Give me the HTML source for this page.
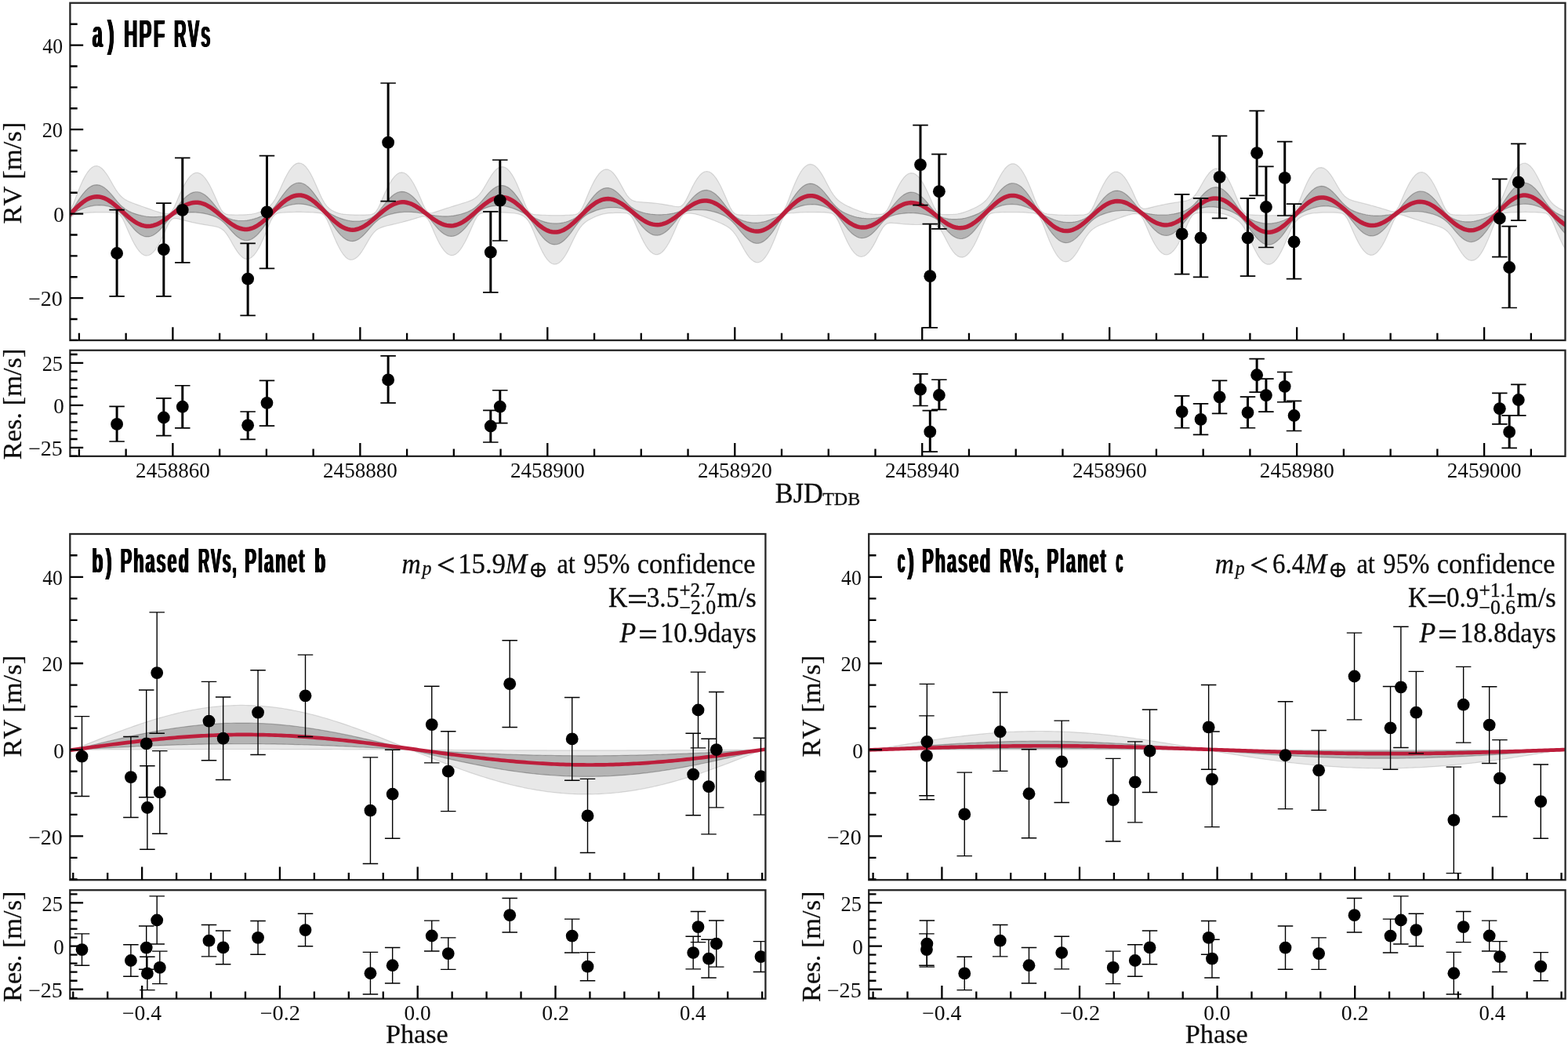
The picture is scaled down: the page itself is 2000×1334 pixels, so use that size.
<!DOCTYPE html>
<html lang="en"><head><meta charset="utf-8"><title>HPF RVs</title>
<style>html,body{margin:0;padding:0;background:#fff;overflow:hidden}svg{display:block;filter:blur(0.45px)}</style>
</head><body>
<svg width="2000" height="1334" viewBox="0 0 2000 1334" font-family="'Liberation Serif','DejaVu Serif',serif" style="font-kerning:none">
<rect width="2000" height="1334" fill="#fff"/>
<defs>
<clipPath id="cA"><rect x="89.4" y="3.75" width="1907.1" height="430.25"/></clipPath>
<clipPath id="cAR"><rect x="89.4" y="446.75" width="1907.1" height="135.1"/></clipPath>
<clipPath id="cB"><rect x="89.3" y="681" width="887.1" height="441.2"/></clipPath>
<clipPath id="cBR"><rect x="89.3" y="1135.2" width="887.1" height="138.5"/></clipPath>
<clipPath id="cC"><rect x="1108.2" y="681" width="888.4" height="441.2"/></clipPath>
<clipPath id="cCR"><rect x="1108.2" y="1135.2" width="888.4" height="138.5"/></clipPath>
<filter id="fat" filterUnits="userSpaceOnUse" x="100" y="0" width="1400" height="760"><feOffset in="SourceGraphic" dx="0" dy="-0.5" result="u"/><feOffset in="SourceGraphic" dx="0" dy="0.5" result="d"/><feComposite in="u" in2="d" operator="in" result="e"/><feOffset in="e" dx="-0.85" dy="0" result="a"/><feOffset in="e" dx="0.85" dy="0" result="b"/><feMerge><feMergeNode in="a"/><feMergeNode in="b"/><feMergeNode in="e"/></feMerge></filter>
</defs>
<path d="M87.77 270.49L90.76 266.06L93.75 259.34L96.74 251.51L99.73 243.69L102.73 236.4L105.72 229.86L108.71 224.21L111.7 219.52L114.69 215.84L117.68 213.24L120.68 211.79L123.67 211.52L126.66 212.45L129.65 214.49L132.64 217.51L135.63 221.41L138.63 226.04L141.62 231.21L144.61 236.52L147.6 241.54L150.59 245.93L153.58 249.5L156.58 252.27L159.57 254.38L162.56 256.05L165.55 257.43L168.54 258.65L171.53 259.76L174.53 260.85L177.52 261.92L180.51 262.98L183.5 264.02L186.49 265.06L189.48 266.12L192.48 267.18L195.47 268.22L198.46 269.22L201.45 270.19L204.44 271.1L207.43 271.89L210.43 272.47L213.42 272.68L216.41 271.87L219.4 269L222.39 263.75L225.38 256.92L228.38 249.8L231.37 243.13L234.36 237.08L237.35 231.8L240.34 227.4L243.33 223.99L246.33 221.63L249.32 220.39L252.31 220.28L255.3 221.32L258.29 223.45L261.28 226.63L264.28 230.79L267.27 235.85L270.26 241.69L273.25 248.13L276.24 254.98L279.23 261.76L282.23 267.52L285.22 271.31L288.21 273.08L291.2 273.63L294.19 273.81L297.18 273.92L300.18 273.98L303.17 273.99L306.16 273.96L309.15 273.89L312.14 273.78L315.13 273.62L318.13 273.38L321.12 273.03L324.11 272.51L327.1 271.76L330.09 270.78L333.08 269.57L336.08 268.13L339.07 266.46L342.06 264.44L345.05 261.86L348.04 258.38L351.03 253.79L354.03 248.1L357.02 241.68L360.01 235.03L363 228.6L365.99 222.74L368.98 217.67L371.98 213.56L374.97 210.53L377.96 208.62L380.95 207.85L383.94 208.25L386.93 209.8L389.93 212.49L392.92 216.26L395.91 221.04L398.9 226.73L401.89 233.15L404.88 240.03L407.88 246.98L410.87 253.41L413.86 258.79L416.85 262.87L419.84 265.79L422.83 267.93L425.83 269.57L428.82 270.89L431.81 271.9L434.8 272.63L437.79 273.12L440.78 273.45L443.78 273.67L446.77 273.84L449.76 273.97L452.75 274.07L455.74 274.12L458.73 274.14L461.73 274.12L464.72 274.05L467.71 273.95L470.7 273.79L473.69 273.48L476.68 272.44L479.68 269.66L482.67 264.7L485.66 258.19L488.65 251.25L491.64 244.59L494.63 238.43L497.63 232.95L500.62 228.32L503.61 224.63L506.6 221.95L509.59 220.34L512.58 219.85L515.58 220.52L518.57 222.34L521.56 225.26L524.55 229.19L527.54 234.05L530.54 239.73L533.53 246.12L536.52 253.09L539.51 260.21L542.5 266.39L545.49 270.35L548.49 271.77L551.48 271.48L554.47 270.59L557.46 269.62L560.45 268.63L563.44 267.63L566.44 266.64L569.43 265.66L572.42 264.7L575.41 263.75L578.4 262.81L581.39 261.89L584.39 260.97L587.38 260.05L590.37 259.14L593.36 258.23L596.35 257.26L599.34 256.16L602.34 254.87L605.33 253.25L608.32 251.08L611.31 248.15L614.3 244.31L617.29 239.67L620.29 234.52L623.28 229.31L626.27 224.44L629.26 220.18L632.25 216.72L635.24 214.23L638.24 212.86L641.23 212.64L644.22 213.53L647.21 215.5L650.2 218.58L653.19 222.8L656.19 228.09L659.18 234.28L662.17 241.19L665.16 248.63L668.15 256.39L671.14 263.68L674.14 269.18L677.13 272.21L680.12 273.3L683.11 273.63L686.1 273.86L689.09 274.06L692.09 274.24L695.08 274.4L698.07 274.52L701.06 274.61L704.05 274.68L707.04 274.72L710.04 274.72L713.03 274.7L716.02 274.64L719.01 274.54L722 274.41L724.99 274.25L727.99 274.07L730.98 273.85L733.97 273.51L736.96 272.46L739.95 269.64L742.94 264.55L745.94 257.76L748.93 250.42L751.92 243.31L754.91 236.73L757.9 230.86L760.89 225.84L763.89 221.77L766.88 218.74L769.87 216.79L772.86 215.94L775.85 216.22L778.84 217.67L781.84 220.25L784.83 223.85L787.82 228.3L790.81 233.39L793.8 238.86L796.79 244.26L799.79 249.02L802.78 252.65L805.77 255L808.76 256.32L811.75 257.03L814.74 257.44L817.74 257.7L820.73 257.91L823.72 258.1L826.71 258.31L829.7 258.55L832.69 258.83L835.69 259.14L838.68 259.49L841.67 259.89L844.66 260.34L847.65 260.82L850.64 261.34L853.64 261.89L856.63 262.46L859.62 263.02L862.61 263.52L865.6 263.71L868.59 262.99L871.59 260.57L874.58 256.1L877.57 250.13L880.56 243.68L883.55 237.54L886.54 232.04L889.54 227.32L892.53 223.5L895.52 220.71L898.51 219.02L901.5 218.47L904.49 219.03L907.49 220.71L910.48 223.5L913.47 227.35L916.46 232.17L919.45 237.83L922.44 244.14L925.44 250.94L928.43 257.98L931.42 264.57L934.41 269.59L937.4 272.45L940.39 273.54L943.39 273.89L946.38 274.1L949.37 274.25L952.36 274.37L955.35 274.46L958.34 274.51L961.34 274.52L964.33 274.5L967.32 274.45L970.31 274.38L973.3 274.27L976.29 274.13L979.29 273.97L982.28 273.79L985.27 273.59L988.26 273.38L991.25 273.14L994.24 272.69L997.24 271.21L1000.23 267.55L1003.22 261.4L1006.21 253.62L1009.2 245.54L1012.19 237.89L1015.19 230.9L1018.18 224.72L1021.17 219.47L1024.16 215.24L1027.15 212.13L1030.14 210.19L1033.14 209.42L1036.13 209.81L1039.12 211.3L1042.11 213.85L1045.1 217.41L1048.09 221.85L1051.09 227.03L1054.08 232.67L1057.07 238.38L1060.06 243.74L1063.05 248.41L1066.04 252.23L1069.04 255.24L1072.03 257.61L1075.02 259.55L1078.01 261.21L1081 262.71L1083.99 264.1L1086.99 265.43L1089.98 266.7L1092.97 267.91L1095.96 269.05L1098.95 270.09L1101.94 271.04L1104.94 271.86L1107.93 272.52L1110.92 272.97L1113.91 273.23L1116.9 273.35L1119.89 273.38L1122.89 273.32L1125.88 272.87L1128.87 271.14L1131.86 267.31L1134.85 261.48L1137.84 254.62L1140.84 247.74L1143.83 241.32L1146.82 235.54L1149.81 230.57L1152.8 226.53L1155.79 223.49L1158.79 221.51L1161.78 220.63L1164.77 220.88L1167.76 222.25L1170.75 224.7L1173.75 228.19L1176.74 232.66L1179.73 237.99L1182.72 244.06L1185.71 250.68L1188.7 257.64L1191.7 264.25L1194.69 269.33L1197.68 272.2L1200.67 273.25L1203.66 273.49L1206.65 273.56L1209.65 273.57L1212.64 273.51L1215.63 273.38L1218.62 273.13L1221.61 272.72L1224.6 272.12L1227.6 271.33L1230.59 270.39L1233.58 269.31L1236.57 268.13L1239.56 266.83L1242.55 265.44L1245.55 263.96L1248.54 262.34L1251.53 260.5L1254.52 258.29L1257.51 255.52L1260.5 251.97L1263.5 247.53L1266.49 242.29L1269.48 236.51L1272.47 230.57L1275.46 224.88L1278.45 219.79L1281.45 215.52L1284.44 212.23L1287.43 209.99L1290.42 208.86L1293.41 208.87L1296.4 210.06L1299.4 212.42L1302.39 215.92L1305.38 220.49L1308.37 226.04L1311.36 232.45L1314.35 239.57L1317.35 247.2L1320.34 254.92L1323.33 261.86L1326.32 267.09L1329.31 270.31L1332.3 271.96L1335.3 272.76L1338.29 273.18L1341.28 273.44L1344.27 273.65L1347.26 273.84L1350.25 274.01L1353.25 274.15L1356.24 274.27L1359.23 274.36L1362.22 274.41L1365.21 274.43L1368.2 274.42L1371.2 274.37L1374.19 274.28L1377.18 274.16L1380.17 274L1383.16 273.78L1386.15 273.21L1389.15 271.47L1392.14 267.75L1395.13 262.04L1398.12 255.22L1401.11 248.28L1404.1 241.71L1407.1 235.72L1410.09 230.45L1413.08 226.04L1416.07 222.61L1419.06 220.3L1422.05 219.13L1425.05 219.1L1428.04 220.19L1431.03 222.37L1434.02 225.59L1437.01 229.82L1440 234.95L1443 240.86L1445.99 247.37L1448.98 254.09L1451.97 260.11L1454.96 264.27L1457.95 266.09L1460.95 266.19L1463.94 265.59L1466.93 264.86L1469.92 264.11L1472.91 263.38L1475.9 262.67L1478.9 261.99L1481.89 261.34L1484.88 260.73L1487.87 260.15L1490.86 259.61L1493.85 259.11L1496.85 258.63L1499.84 258.19L1502.83 257.77L1505.82 257.34L1508.81 256.88L1511.8 256.31L1514.8 255.53L1517.79 254.34L1520.78 252.45L1523.77 249.54L1526.76 245.51L1529.75 240.59L1532.75 235.25L1535.74 230.01L1538.73 225.27L1541.72 221.27L1544.71 218.14L1547.7 215.97L1550.7 214.94L1553.69 215.15L1556.68 216.55L1559.67 219.04L1562.66 222.57L1565.65 227.1L1568.65 232.56L1571.64 238.81L1574.63 245.7L1577.62 253.04L1580.61 260.34L1583.6 266.64L1586.6 270.89L1589.59 272.96L1592.58 273.65L1595.57 273.9L1598.56 274.11L1601.55 274.29L1604.55 274.44L1607.54 274.57L1610.53 274.66L1613.52 274.72L1616.51 274.75L1619.5 274.74L1622.5 274.7L1625.49 274.64L1628.48 274.54L1631.47 274.41L1634.46 274.24L1637.45 274.06L1640.45 273.84L1643.44 273.6L1646.43 273.04L1649.42 271.25L1652.41 267.32L1655.4 261.17L1658.4 253.76L1661.39 246.21L1664.38 239.08L1667.37 232.59L1670.36 226.86L1673.35 222.01L1676.35 218.14L1679.34 215.41L1682.33 213.91L1685.32 213.59L1688.31 214.34L1691.3 216.16L1694.3 219.03L1697.29 222.85L1700.28 227.43L1703.27 232.5L1706.26 237.72L1709.25 242.66L1712.25 246.89L1715.24 250.18L1718.23 252.56L1721.22 254.22L1724.21 255.43L1727.2 256.38L1730.2 257.2L1733.19 257.95L1736.18 258.67L1739.17 259.41L1742.16 260.16L1745.15 260.94L1748.15 261.73L1751.14 262.54L1754.13 263.36L1757.12 264.21L1760.11 265.08L1763.1 265.98L1766.1 266.9L1769.09 267.84L1772.08 268.79L1775.07 269.72L1778.06 269.92L1781.05 268.07L1784.05 263.46L1787.04 256.84L1790.03 249.7L1793.02 242.99L1796.01 236.9L1799.01 231.57L1802 227.09L1804.99 223.58L1807.98 221.12L1810.97 219.76L1813.96 219.55L1816.96 220.51L1819.95 222.61L1822.94 225.79L1825.93 229.94L1828.92 234.98L1831.91 240.8L1834.91 247.22L1837.9 254.07L1840.89 260.93L1843.88 266.91L1846.87 271.01L1849.86 273.03L1852.86 273.69L1855.85 273.91L1858.84 274.06L1861.83 274.17L1864.82 274.24L1867.81 274.27L1870.81 274.26L1873.8 274.22L1876.79 274.13L1879.78 274.02L1882.77 273.88L1885.76 273.7L1888.76 273.48L1891.75 273.19L1894.74 272.74L1897.73 272.04L1900.72 270.97L1903.71 269.46L1906.71 267.28L1909.7 264.01L1912.69 259.25L1915.68 253.05L1918.67 245.95L1921.66 238.66L1924.66 231.7L1927.65 225.38L1930.64 219.9L1933.63 215.37L1936.62 211.87L1939.61 209.47L1942.61 208.24L1945.6 208.18L1948.59 209.27L1951.58 211.51L1954.57 214.84L1957.56 219.2L1960.56 224.43L1963.55 230.33L1966.54 236.61L1969.53 242.88L1972.52 248.7L1975.51 253.68L1978.51 257.67L1981.5 260.72L1984.49 263.07L1987.48 264.99L1990.47 266.65L1993.46 268.14L1996.46 269.37L1999.45 270.19L1999.45 320.9L1996.46 317.52L1993.46 312.46L1990.47 306.29L1987.48 299.48L1984.49 292.24L1981.5 285L1978.51 278.71L1975.51 274.38L1972.52 272.25L1969.53 271.53L1966.54 271.27L1963.55 271.07L1960.56 270.89L1957.56 270.75L1954.57 270.62L1951.58 270.54L1948.59 270.48L1945.6 270.47L1942.61 270.48L1939.61 270.53L1936.62 270.6L1933.63 270.7L1930.64 270.84L1927.65 271L1924.66 271.19L1921.66 271.4L1918.67 271.64L1915.68 272.18L1912.69 273.9L1909.7 277.8L1906.71 283.98L1903.71 291.49L1900.72 299.14L1897.73 306.37L1894.74 313.01L1891.75 318.9L1888.76 323.84L1885.76 327.68L1882.77 330.36L1879.78 331.91L1876.79 332.38L1873.8 331.75L1870.81 329.99L1867.81 327.14L1864.82 323.37L1861.83 318.87L1858.84 313.84L1855.85 308.61L1852.86 303.62L1849.86 299.28L1846.87 295.81L1843.88 293.2L1840.89 291.29L1837.9 289.87L1834.91 288.72L1831.91 287.72L1828.92 286.81L1825.93 285.92L1822.94 285.05L1819.95 284.16L1816.96 283.28L1813.96 282.38L1810.97 281.48L1807.98 280.55L1804.99 279.6L1802 278.64L1799.01 277.67L1796.01 276.68L1793.02 275.69L1790.03 274.71L1787.04 273.81L1784.05 273.74L1781.05 275.85L1778.06 280.73L1775.07 287.54L1772.08 294.77L1769.09 301.54L1766.1 307.7L1763.1 313.09L1760.11 317.62L1757.12 321.19L1754.13 323.72L1751.14 325.13L1748.15 325.38L1745.15 324.48L1742.16 322.45L1739.17 319.39L1736.18 315.33L1733.19 310.37L1730.2 304.63L1727.2 298.26L1724.21 291.45L1721.22 284.58L1718.23 278.53L1715.24 274.33L1712.25 272.23L1709.25 271.55L1706.26 271.34L1703.27 271.2L1700.28 271.1L1697.29 271.05L1694.3 271.03L1691.3 271.06L1688.31 271.12L1685.32 271.22L1682.33 271.36L1679.34 271.53L1676.35 271.76L1673.35 272.08L1670.36 272.58L1667.37 273.31L1664.38 274.35L1661.39 275.71L1658.4 277.46L1655.4 279.79L1652.41 283.07L1649.42 287.65L1646.43 293.53L1643.44 300.31L1640.45 307.36L1637.45 314.17L1634.46 320.39L1631.47 325.8L1628.48 330.27L1625.49 333.69L1622.5 336.01L1619.5 337.19L1616.51 337.2L1613.52 336.05L1610.53 333.75L1607.54 330.34L1604.55 325.91L1601.55 320.58L1598.56 314.55L1595.57 308.06L1592.58 301.5L1589.59 295.38L1586.6 290.13L1583.6 285.97L1580.61 282.84L1577.62 280.47L1574.63 278.58L1571.64 276.97L1568.65 275.58L1565.65 274.4L1562.66 273.43L1559.67 272.69L1556.68 272.17L1553.69 271.82L1550.7 271.59L1547.7 271.43L1544.71 271.32L1541.72 271.26L1538.73 271.24L1535.74 271.27L1532.75 271.34L1529.75 271.47L1526.76 271.67L1523.77 272.47L1520.78 274.88L1517.79 279.48L1514.8 285.81L1511.8 292.73L1508.81 299.45L1505.82 305.69L1502.83 311.26L1499.84 316L1496.85 319.81L1493.85 322.61L1490.86 324.35L1487.87 324.97L1484.88 324.43L1481.89 322.76L1478.9 320.01L1475.9 316.24L1472.91 311.52L1469.92 305.95L1466.93 299.66L1463.94 292.82L1460.95 285.74L1457.95 279.36L1454.96 274.91L1451.97 272.8L1448.98 272.39L1445.99 272.69L1443 273.27L1440 274.05L1437.01 274.95L1434.02 275.91L1431.03 276.93L1428.04 277.98L1425.05 279.05L1422.05 280.13L1419.06 281.19L1416.07 282.25L1413.08 283.33L1410.09 284.43L1407.1 285.57L1404.1 286.76L1401.11 288.06L1398.12 289.56L1395.13 291.4L1392.14 293.76L1389.15 296.86L1386.15 300.79L1383.16 305.5L1380.17 310.72L1377.18 316.06L1374.19 321.08L1371.2 325.47L1368.2 329.07L1365.21 331.77L1362.22 333.43L1359.23 333.94L1356.24 333.25L1353.25 331.37L1350.25 328.37L1347.26 324.31L1344.27 319.26L1341.28 313.3L1338.29 306.49L1335.3 298.98L1332.3 291.01L1329.31 283.33L1326.32 277.23L1323.33 273.61L1320.34 272.16L1317.35 271.73L1314.35 271.5L1311.36 271.3L1308.37 271.12L1305.38 270.96L1302.39 270.82L1299.4 270.71L1296.4 270.62L1293.41 270.56L1290.42 270.53L1287.43 270.53L1284.44 270.57L1281.45 270.64L1278.45 270.75L1275.46 270.89L1272.47 271.06L1269.48 271.27L1266.49 271.55L1263.5 272.39L1260.5 274.83L1257.51 279.49L1254.52 285.96L1251.53 293.13L1248.54 300.17L1245.55 306.77L1242.55 312.7L1239.56 317.81L1236.57 321.99L1233.58 325.15L1230.59 327.21L1227.6 328.14L1224.6 327.93L1221.61 326.63L1218.62 324.26L1215.63 320.85L1212.64 316.46L1209.65 311.28L1206.65 305.58L1203.66 299.79L1200.67 294.56L1197.68 290.54L1194.69 288.03L1191.7 286.79L1188.7 286.32L1185.71 286.2L1182.72 286.23L1179.73 286.31L1176.74 286.4L1173.75 286.46L1170.75 286.49L1167.76 286.49L1164.77 286.45L1161.78 286.36L1158.79 286.22L1155.79 286.03L1152.8 285.79L1149.81 285.52L1146.82 285.22L1143.83 284.9L1140.84 284.6L1137.84 284.39L1134.85 284.42L1131.86 285.08L1128.87 287.02L1125.88 290.66L1122.89 295.85L1119.89 301.85L1116.9 307.88L1113.91 313.41L1110.92 318.19L1107.93 322.05L1104.94 324.94L1101.94 326.78L1098.95 327.5L1095.96 327.08L1092.97 325.51L1089.98 322.85L1086.99 319.15L1083.99 314.45L1081 308.87L1078.01 302.57L1075.02 295.75L1072.03 288.64L1069.04 281.85L1066.04 276.46L1063.05 273.19L1060.06 271.8L1057.07 271.35L1054.08 271.14L1051.09 270.96L1048.09 270.82L1045.1 270.7L1042.11 270.63L1039.12 270.59L1036.13 270.59L1033.14 270.62L1030.14 270.68L1027.15 270.76L1024.16 270.87L1021.17 271.01L1018.18 271.17L1015.19 271.35L1012.19 271.55L1009.2 271.77L1006.21 272.01L1003.22 272.86L1000.23 275.63L997.24 281.08L994.24 288.6L991.25 296.72L988.26 304.47L985.27 311.6L982.28 317.98L979.29 323.48L976.29 328L973.3 331.45L970.31 333.73L967.32 334.79L964.33 334.66L961.34 333.39L958.34 331.1L955.35 327.83L952.36 323.66L949.37 318.74L946.38 313.35L943.39 307.89L940.39 302.74L937.4 298.26L934.41 294.61L931.42 291.75L928.43 289.51L925.44 287.7L922.44 286.15L919.45 284.76L916.46 283.47L913.47 282.24L910.48 281.04L907.49 279.86L904.49 278.7L901.5 277.57L898.51 276.49L895.52 275.47L892.53 274.52L889.54 273.66L886.54 272.94L883.55 272.44L880.56 272.17L877.57 272.08L874.58 272.34L871.59 273.72L868.59 277.15L865.6 282.75L862.61 289.61L859.62 296.59L856.63 303.11L853.64 308.98L850.64 314.07L847.65 318.27L844.66 321.49L841.67 323.64L838.68 324.66L835.69 324.54L832.69 323.32L829.7 321.01L826.71 317.65L823.72 313.31L820.73 308.08L817.74 302.11L814.74 295.57L811.75 288.67L808.76 281.99L805.77 276.62L802.78 273.35L799.79 271.99L796.79 271.61L793.8 271.49L790.81 271.42L787.82 271.41L784.83 271.44L781.84 271.53L778.84 271.69L775.85 271.93L772.86 272.31L769.87 272.87L766.88 273.64L763.89 274.59L760.89 275.72L757.9 277.01L754.91 278.45L751.92 280.04L748.93 281.85L745.94 284.03L742.94 286.81L739.95 290.42L736.96 295L733.97 300.48L730.98 306.57L727.99 312.85L724.99 318.89L722 324.34L719.01 328.98L716.02 332.65L713.03 335.25L710.04 336.72L707.04 337.05L704.05 336.21L701.06 334.2L698.07 331.05L695.08 326.84L692.09 321.66L689.09 315.6L686.1 308.8L683.11 301.5L680.12 294.15L677.13 287.47L674.14 282.13L671.14 278.38L668.15 275.93L665.16 274.3L662.17 273.19L659.18 272.47L656.19 272.02L653.19 271.73L650.2 271.51L647.21 271.33L644.22 271.18L641.23 271.06L638.24 270.97L635.24 270.92L632.25 270.9L629.26 270.92L626.27 270.98L623.28 271.08L620.29 271.22L617.29 271.41L614.3 271.86L611.31 273.28L608.32 276.59L605.33 281.97L602.34 288.65L599.34 295.58L596.35 302.19L593.36 308.24L590.37 313.58L587.38 318.07L584.39 321.63L581.39 324.14L578.4 325.52L575.41 325.72L572.42 324.77L569.43 322.7L566.44 319.57L563.44 315.45L560.45 310.43L557.46 304.6L554.47 298.1L551.48 291.08L548.49 284.22L545.49 278.94L542.5 276.23L539.51 275.84L536.52 276.56L533.53 277.49L530.54 278.41L527.54 279.32L524.55 280.2L521.56 281.06L518.57 281.88L515.58 282.69L512.58 283.48L509.59 284.25L506.6 285L503.61 285.72L500.62 286.41L497.63 287.09L494.63 287.78L491.64 288.52L488.65 289.38L485.66 290.43L482.67 291.85L479.68 293.87L476.68 296.76L473.69 300.63L470.7 305.37L467.71 310.58L464.72 315.77L461.73 320.55L458.73 324.64L455.74 327.85L452.75 330.06L449.76 331.24L446.77 331.34L443.78 330.26L440.78 327.95L437.79 324.47L434.8 319.98L431.81 314.58L428.82 308.37L425.83 301.47L422.83 294.07L419.84 286.51L416.85 279.73L413.86 274.93L410.87 272.49L407.88 271.68L404.88 271.42L401.89 271.2L398.9 271.01L395.91 270.84L392.92 270.69L389.93 270.59L386.93 270.51L383.94 270.46L380.95 270.45L377.96 270.47L374.97 270.52L371.98 270.6L368.98 270.71L365.99 270.86L363 271.03L360.01 271.23L357.02 271.47L354.03 271.93L351.03 273.38L348.04 276.81L345.05 282.48L342.06 289.59L339.07 297.02L336.08 304.11L333.08 310.62L330.09 316.39L327.1 321.29L324.11 325.2L321.12 328.1L318.13 329.92L315.13 330.55L312.14 329.93L309.15 328.16L306.16 325.38L303.17 321.69L300.18 317.2L297.18 312.12L294.19 306.79L291.2 301.69L288.21 297.3L285.22 293.97L282.23 291.7L279.23 290.23L276.24 289.29L273.25 288.62L270.26 288.07L267.27 287.59L264.28 287.12L261.28 286.65L258.29 286.15L255.3 285.61L252.31 285.04L249.32 284.44L246.33 283.81L243.33 283.15L240.34 282.44L237.35 281.7L234.36 280.94L231.37 280.16L228.38 279.37L225.38 278.65L222.39 278.38L219.4 279.52L216.41 282.92L213.42 288.5L210.43 295.19L207.43 301.89L204.44 308.05L201.45 313.49L198.46 318.06L195.47 321.66L192.48 324.24L189.48 325.74L186.49 326.12L183.5 325.37L180.51 323.45L177.52 320.42L174.53 316.36L171.53 311.41L168.54 305.67L165.55 299.28L162.56 292.45L159.57 285.49L156.58 279.21L153.58 274.7L150.59 272.35L147.6 271.53L144.61 271.28L141.62 271.1L138.63 270.97L135.63 270.87L132.64 270.81L129.65 270.79L126.66 270.8L123.67 270.85L120.68 270.93L117.68 271.04L114.69 271.18L111.7 271.34L108.71 271.53L105.72 271.74L102.73 272.01L99.73 272.42L96.74 273.16L93.75 274.58L90.76 276.66L87.77 278.67Z" fill="#000" fill-opacity="0.09" stroke="#000" stroke-opacity="0.13" stroke-width="1.2" stroke-linejoin="round" clip-path="url(#cA)"/>
<path d="M87.77 272.28L90.76 269.45L93.75 265.25L96.74 260.46L99.73 255.72L102.73 251.28L105.72 247.27L108.71 243.77L111.7 240.83L114.69 238.51L117.68 236.86L120.68 235.9L123.67 235.66L126.66 236.11L129.65 237.24L132.64 239.01L135.63 241.36L138.63 244.21L141.62 247.46L144.61 251.01L147.6 254.66L150.59 258.17L153.58 261.35L156.58 264.09L159.57 266.4L162.56 268.32L165.55 269.91L168.54 271.23L171.53 272.35L174.53 273.32L177.52 274.16L180.51 274.89L183.5 275.5L186.49 275.98L189.48 276.33L192.48 276.54L195.47 276.63L198.46 276.6L201.45 276.47L204.44 276.22L207.43 275.88L210.43 275.45L213.42 274.82L216.41 273.65L219.4 271.52L222.39 268.35L225.38 264.54L228.38 260.65L231.37 256.99L234.36 253.68L237.35 250.81L240.34 248.42L243.33 246.59L246.33 245.36L249.32 244.74L252.31 244.76L255.3 245.41L258.29 246.68L261.28 248.55L264.28 250.98L267.27 253.91L270.26 257.24L273.25 260.87L276.24 264.65L279.23 268.37L282.23 271.76L285.22 274.57L288.21 276.71L291.2 278.28L294.19 279.41L297.18 280.25L300.18 280.86L303.17 281.27L306.16 281.48L309.15 281.52L312.14 281.38L315.13 281.06L318.13 280.57L321.12 279.92L324.11 279.13L327.1 278.19L330.09 277.12L333.08 275.91L336.08 274.59L339.07 273.11L342.06 271.35L345.05 269.1L348.04 266.18L351.03 262.57L354.03 258.43L357.02 254.07L360.01 249.78L363 245.76L365.99 242.16L368.98 239.07L371.98 236.56L374.97 234.7L377.96 233.51L380.95 233.03L383.94 233.28L386.93 234.23L389.93 235.88L392.92 238.2L395.91 241.12L398.9 244.59L401.89 248.54L404.88 252.84L407.88 257.34L410.87 261.76L413.86 265.74L416.85 268.99L419.84 271.45L422.83 273.31L425.83 274.84L428.82 276.21L431.81 277.46L434.8 278.59L437.79 279.59L440.78 280.45L443.78 281.15L446.77 281.69L449.76 282.04L452.75 282.22L455.74 282.21L458.73 282.01L461.73 281.62L464.72 281.02L467.71 280.21L470.7 279.14L473.69 277.71L476.68 275.77L479.68 273.22L482.67 270.07L485.66 266.48L488.65 262.68L491.64 258.92L494.63 255.39L497.63 252.22L500.62 249.49L503.61 247.3L506.6 245.69L509.59 244.7L512.58 244.34L515.58 244.61L518.57 245.52L521.56 247.03L524.55 249.12L527.54 251.74L530.54 254.83L533.53 258.32L536.52 262.13L539.51 266.06L542.5 269.61L545.49 272.19L548.49 273.65L551.48 274.35L554.47 274.8L557.46 275.18L560.45 275.49L563.44 275.7L566.44 275.81L569.43 275.81L572.42 275.69L575.41 275.44L578.4 275.06L581.39 274.57L584.39 273.95L587.38 273.23L590.37 272.38L593.36 271.4L596.35 270.23L599.34 268.85L602.34 267.18L605.33 265.17L608.32 262.75L611.31 259.89L614.3 256.61L617.29 253.09L620.29 249.54L623.28 246.2L626.27 243.21L629.26 240.67L632.25 238.67L635.24 237.29L638.24 236.57L641.23 236.54L644.22 237.21L647.21 238.57L650.2 240.6L653.19 243.27L656.19 246.53L659.18 250.32L662.17 254.54L665.16 259.09L668.15 263.78L671.14 268.23L674.14 271.98L677.13 274.8L680.12 276.84L683.11 278.43L686.1 279.81L689.09 281.05L692.09 282.13L695.08 283.06L698.07 283.81L701.06 284.39L704.05 284.77L707.04 284.97L710.04 284.96L713.03 284.76L716.02 284.35L719.01 283.76L722 282.97L724.99 282L727.99 280.84L730.98 279.46L733.97 277.8L736.96 275.68L739.95 272.95L742.94 269.53L745.94 265.55L748.93 261.29L751.92 257.06L754.91 253.06L757.9 249.45L760.89 246.31L763.89 243.71L766.88 241.71L769.87 240.35L772.86 239.65L775.85 239.61L778.84 240.25L781.84 241.54L784.83 243.45L787.82 245.9L790.81 248.83L793.8 252.12L796.79 255.59L799.79 258.99L802.78 262.06L805.77 264.6L808.76 266.61L811.75 268.17L814.74 269.42L817.74 270.43L820.73 271.27L823.72 271.97L826.71 272.54L829.7 273.01L832.69 273.37L835.69 273.62L838.68 273.76L841.67 273.78L844.66 273.7L847.65 273.52L850.64 273.23L853.64 272.86L856.63 272.39L859.62 271.82L862.61 271.1L865.6 270.08L868.59 268.49L871.59 266.08L874.58 262.87L877.57 259.22L880.56 255.57L883.55 252.18L886.54 249.2L889.54 246.69L892.53 244.71L895.52 243.32L898.51 242.56L901.5 242.45L904.49 242.98L907.49 244.16L910.48 245.96L913.47 248.34L916.46 251.25L919.45 254.61L922.44 258.34L925.44 262.29L928.43 266.25L931.42 269.98L934.41 273.24L937.4 275.9L940.39 278L943.39 279.62L946.38 280.91L949.37 281.95L952.36 282.77L955.35 283.38L958.34 283.8L961.34 284.02L964.33 284.05L967.32 283.88L970.31 283.51L973.3 282.96L976.29 282.22L979.29 281.33L982.28 280.29L985.27 279.11L988.26 277.82L991.25 276.44L994.24 274.92L997.24 272.95L1000.23 270L1003.22 265.9L1006.21 261.07L1009.2 256.16L1012.19 251.54L1015.19 247.31L1018.18 243.56L1021.17 240.37L1024.16 237.78L1027.15 235.86L1030.14 234.63L1033.14 234.11L1036.13 234.3L1039.12 235.18L1042.11 236.72L1045.1 238.9L1048.09 241.65L1051.09 244.89L1054.08 248.51L1057.07 252.37L1060.06 256.26L1063.05 259.95L1066.04 263.24L1069.04 266.05L1072.03 268.38L1075.02 270.27L1078.01 271.82L1081 273.13L1083.99 274.28L1086.99 275.3L1089.98 276.21L1092.97 276.98L1095.96 277.61L1098.95 278.11L1101.94 278.47L1104.94 278.68L1107.93 278.74L1110.92 278.67L1113.91 278.47L1116.9 278.13L1119.89 277.63L1122.89 276.88L1125.88 275.71L1128.87 273.86L1131.86 271.16L1134.85 267.74L1137.84 263.97L1140.84 260.19L1143.83 256.63L1146.82 253.41L1149.81 250.64L1152.8 248.37L1155.79 246.67L1158.79 245.57L1161.78 245.08L1164.77 245.24L1167.76 246.03L1170.75 247.43L1173.75 249.42L1176.74 251.94L1179.73 254.95L1182.72 258.34L1185.71 262.01L1188.7 265.79L1191.7 269.42L1194.69 272.57L1197.68 274.99L1200.67 276.67L1203.66 277.78L1206.65 278.53L1209.65 279.05L1212.64 279.38L1215.63 279.56L1218.62 279.59L1221.61 279.47L1224.6 279.21L1227.6 278.79L1230.59 278.22L1233.58 277.51L1236.57 276.66L1239.56 275.68L1242.55 274.58L1245.55 273.35L1248.54 271.95L1251.53 270.28L1254.52 268.21L1257.51 265.64L1260.5 262.55L1263.5 258.97L1266.49 255.04L1269.48 251L1272.47 247.1L1275.46 243.51L1278.45 240.37L1281.45 237.75L1284.44 235.73L1287.43 234.37L1290.42 233.7L1293.41 233.73L1296.4 234.48L1299.4 235.93L1302.39 238.06L1305.38 240.84L1308.37 244.21L1311.36 248.1L1314.35 252.43L1317.35 257.11L1320.34 261.94L1323.33 266.48L1326.32 270.19L1329.31 272.83L1332.3 274.68L1335.3 276.18L1338.29 277.56L1341.28 278.84L1344.27 280L1347.26 281.02L1350.25 281.89L1353.25 282.59L1356.24 283.12L1359.23 283.47L1362.22 283.62L1365.21 283.57L1368.2 283.33L1371.2 282.89L1374.19 282.25L1377.18 281.4L1380.17 280.33L1383.16 278.97L1386.15 277.21L1389.15 274.93L1392.14 272.05L1395.13 268.61L1398.12 264.81L1401.11 260.88L1404.1 257.07L1407.1 253.54L1410.09 250.42L1413.08 247.78L1416.07 245.69L1419.06 244.18L1422.05 243.3L1425.05 243.07L1428.04 243.5L1431.03 244.56L1434.02 246.22L1437.01 248.46L1440 251.21L1443 254.41L1445.99 257.97L1448.98 261.75L1451.97 265.41L1454.96 268.42L1457.95 270.45L1460.95 271.63L1463.94 272.34L1466.93 272.87L1469.92 273.31L1472.91 273.67L1475.9 273.95L1478.9 274.13L1481.89 274.2L1484.88 274.17L1487.87 274.02L1490.86 273.76L1493.85 273.39L1496.85 272.91L1499.84 272.32L1502.83 271.6L1505.82 270.75L1508.81 269.74L1511.8 268.51L1514.8 267L1517.79 265.13L1520.78 262.82L1523.77 260L1526.76 256.75L1529.75 253.29L1532.75 249.88L1535.74 246.73L1538.73 243.97L1541.72 241.71L1544.71 240.05L1547.7 239.01L1550.7 238.63L1553.69 238.94L1556.68 239.93L1559.67 241.59L1562.66 243.87L1565.65 246.74L1568.65 250.13L1571.64 253.98L1574.63 258.17L1577.62 262.56L1580.61 266.88L1583.6 270.77L1586.6 273.96L1589.59 276.42L1592.58 278.3L1595.57 279.84L1598.56 281.14L1601.55 282.25L1604.55 283.19L1607.54 283.95L1610.53 284.53L1613.52 284.9L1616.51 285.07L1619.5 285.05L1622.5 284.83L1625.49 284.42L1628.48 283.82L1631.47 283.03L1634.46 282.06L1637.45 280.94L1640.45 279.66L1643.44 278.19L1646.43 276.42L1649.42 274.1L1652.41 270.96L1655.4 267.01L1658.4 262.55L1661.39 257.99L1664.38 253.63L1667.37 249.62L1670.36 246.06L1673.35 243.03L1676.35 240.61L1679.34 238.84L1682.33 237.74L1685.32 237.33L1688.31 237.61L1691.3 238.56L1694.3 240.16L1697.29 242.35L1700.28 245.05L1703.27 248.16L1706.26 251.57L1709.25 255.08L1712.25 258.45L1715.24 261.47L1718.23 264.04L1721.22 266.16L1724.21 267.91L1727.2 269.35L1730.2 270.55L1733.19 271.56L1736.18 272.42L1739.17 273.15L1742.16 273.76L1745.15 274.26L1748.15 274.64L1751.14 274.91L1754.13 275.06L1757.12 275.09L1760.11 275.01L1763.1 274.82L1766.1 274.54L1769.09 274.17L1772.08 273.74L1775.07 273.24L1778.06 272.36L1781.05 270.55L1784.05 267.57L1787.04 263.78L1790.03 259.85L1793.02 256.17L1796.01 252.85L1799.01 249.96L1802 247.58L1804.99 245.76L1807.98 244.54L1810.97 243.95L1813.96 243.99L1816.96 244.67L1819.95 245.97L1822.94 247.87L1825.93 250.34L1828.92 253.31L1831.91 256.7L1834.91 260.38L1837.9 264.22L1840.89 268L1843.88 271.47L1846.87 274.41L1849.86 276.74L1852.86 278.52L1855.85 279.87L1858.84 280.9L1861.83 281.69L1864.82 282.27L1867.81 282.65L1870.81 282.83L1873.8 282.82L1876.79 282.63L1879.78 282.25L1882.77 281.69L1885.76 280.95L1888.76 280.05L1891.75 279.01L1894.74 277.84L1897.73 276.55L1900.72 275.16L1903.71 273.6L1906.71 271.65L1909.7 268.98L1912.69 265.41L1915.68 261.1L1918.67 256.46L1921.66 251.89L1924.66 247.62L1927.65 243.76L1930.64 240.41L1933.63 237.64L1936.62 235.5L1939.61 234.04L1942.61 233.28L1945.6 233.24L1948.59 233.92L1951.58 235.29L1954.57 237.33L1957.56 239.98L1960.56 243.19L1963.55 246.86L1966.54 250.88L1969.53 255.1L1972.52 259.27L1975.51 263.11L1978.51 266.4L1981.5 269.08L1984.49 271.18L1987.48 272.86L1990.47 274.29L1993.46 275.55L1996.46 276.63L1999.45 277.36L1999.45 299.92L1996.46 297.8L1993.46 294.65L1990.47 290.88L1987.48 286.77L1984.49 282.47L1981.5 278.24L1978.51 274.4L1975.51 271.22L1972.52 268.74L1969.53 266.81L1966.54 265.26L1963.55 263.97L1960.56 262.86L1957.56 261.95L1954.57 261.21L1951.58 260.67L1948.59 260.33L1945.6 260.18L1942.61 260.24L1939.61 260.49L1936.62 260.94L1933.63 261.57L1930.64 262.38L1927.65 263.36L1924.66 264.49L1921.66 265.77L1918.67 267.22L1915.68 268.94L1912.69 271.21L1909.7 274.35L1906.71 278.37L1903.71 282.94L1900.72 287.59L1897.73 292.03L1894.74 296.1L1891.75 299.71L1888.76 302.76L1885.76 305.21L1882.77 307L1879.78 308.12L1876.79 308.55L1873.8 308.28L1870.81 307.33L1867.81 305.73L1864.82 303.53L1861.83 300.82L1858.84 297.7L1855.85 294.27L1852.86 290.72L1849.86 287.28L1846.87 284.17L1843.88 281.49L1840.89 279.25L1837.9 277.39L1834.91 275.85L1831.91 274.57L1828.92 273.5L1825.93 272.58L1822.94 271.8L1819.95 271.13L1816.96 270.57L1813.96 270.12L1810.97 269.8L1807.98 269.61L1804.99 269.54L1802 269.58L1799.01 269.74L1796.01 269.99L1793.02 270.33L1790.03 270.74L1787.04 271.23L1784.05 272.08L1781.05 273.87L1778.06 276.85L1775.07 280.65L1772.08 284.6L1769.09 288.31L1766.1 291.67L1763.1 294.59L1760.11 297.02L1757.12 298.9L1754.13 300.18L1751.14 300.85L1748.15 300.89L1745.15 300.29L1742.16 299.06L1739.17 297.23L1736.18 294.83L1733.19 291.92L1730.2 288.6L1727.2 284.97L1724.21 281.16L1721.22 277.39L1718.23 273.92L1715.24 270.97L1712.25 268.64L1709.25 266.89L1706.26 265.58L1703.27 264.59L1700.28 263.85L1697.29 263.31L1694.3 262.97L1691.3 262.83L1688.31 262.88L1685.32 263.11L1682.33 263.52L1679.34 264.11L1676.35 264.86L1673.35 265.77L1670.36 266.82L1667.37 267.99L1664.38 269.28L1661.39 270.69L1658.4 272.29L1655.4 274.31L1652.41 277.02L1649.42 280.56L1646.43 284.76L1643.44 289.27L1640.45 293.76L1637.45 297.97L1634.46 301.78L1631.47 305.08L1628.48 307.81L1625.49 309.92L1622.5 311.34L1619.5 312.06L1616.51 312.07L1613.52 311.35L1610.53 309.94L1607.54 307.86L1604.55 305.15L1601.55 301.89L1598.56 298.16L1595.57 294.05L1592.58 289.74L1589.59 285.45L1586.6 281.5L1583.6 278.13L1580.61 275.45L1577.62 273.38L1574.63 271.72L1571.64 270.31L1568.65 269.03L1565.65 267.87L1562.66 266.84L1559.67 265.95L1556.68 265.21L1553.69 264.62L1550.7 264.18L1547.7 263.91L1544.71 263.82L1541.72 263.91L1538.73 264.19L1535.74 264.65L1532.75 265.32L1529.75 266.23L1526.76 267.48L1523.77 269.24L1520.78 271.61L1517.79 274.63L1514.8 278.15L1511.8 281.92L1508.81 285.67L1505.82 289.2L1502.83 292.38L1499.84 295.13L1496.85 297.36L1493.85 299.01L1490.86 300.05L1487.87 300.46L1484.88 300.24L1481.89 299.38L1478.9 297.92L1475.9 295.88L1472.91 293.31L1469.92 290.27L1466.93 286.83L1463.94 283.06L1460.95 279.16L1457.95 275.52L1454.96 272.69L1451.97 270.9L1448.98 269.95L1445.99 269.4L1443 269L1440 268.69L1437.01 268.48L1434.02 268.39L1431.03 268.41L1428.04 268.56L1425.05 268.82L1422.05 269.22L1419.06 269.76L1416.07 270.43L1413.08 271.21L1410.09 272.1L1407.1 273.13L1404.1 274.33L1401.11 275.75L1398.12 277.46L1395.13 279.54L1392.14 282.02L1389.15 284.95L1386.15 288.28L1383.16 291.89L1380.17 295.55L1377.18 299.04L1374.19 302.18L1371.2 304.87L1368.2 307.02L1365.21 308.58L1362.22 309.49L1359.23 309.7L1356.24 309.21L1353.25 308.01L1350.25 306.12L1347.26 303.58L1344.27 300.44L1341.28 296.75L1338.29 292.57L1335.3 288.01L1332.3 283.18L1329.31 278.44L1326.32 274.36L1323.33 271.31L1320.34 269.2L1317.35 267.61L1314.35 266.22L1311.36 264.95L1308.37 263.81L1305.38 262.82L1302.39 261.98L1299.4 261.31L1296.4 260.83L1293.41 260.53L1290.42 260.44L1287.43 260.54L1284.44 260.84L1281.45 261.33L1278.45 262.03L1275.46 262.92L1272.47 264L1269.48 265.31L1266.49 266.9L1263.5 268.92L1260.5 271.51L1257.51 274.74L1254.52 278.52L1251.53 282.63L1248.54 286.78L1245.55 290.73L1242.55 294.34L1239.56 297.5L1236.57 300.14L1233.58 302.19L1230.59 303.62L1227.6 304.39L1224.6 304.51L1221.61 303.98L1218.62 302.8L1215.63 301.02L1212.64 298.66L1209.65 295.8L1206.65 292.55L1203.66 289.06L1200.67 285.57L1197.68 282.4L1194.69 279.81L1191.7 277.84L1188.7 276.38L1185.71 275.27L1182.72 274.38L1179.73 273.66L1176.74 273.06L1173.75 272.57L1170.75 272.19L1167.76 271.91L1164.77 271.74L1161.78 271.68L1158.79 271.73L1155.79 271.88L1152.8 272.14L1149.81 272.5L1146.82 272.96L1143.83 273.52L1140.84 274.22L1137.84 275.08L1134.85 276.23L1131.86 277.85L1128.87 280.13L1125.88 283.12L1122.89 286.59L1119.89 290.18L1116.9 293.59L1113.91 296.63L1110.92 299.19L1107.93 301.22L1104.94 302.67L1101.94 303.51L1098.95 303.7L1095.96 303.23L1092.97 302.1L1089.98 300.34L1086.99 297.99L1083.99 295.1L1081 291.73L1078.01 287.98L1075.02 283.97L1072.03 279.9L1069.04 276.03L1066.04 272.61L1063.05 269.79L1060.06 267.57L1057.07 265.84L1054.08 264.46L1051.09 263.33L1048.09 262.41L1045.1 261.69L1042.11 261.16L1039.12 260.83L1036.13 260.7L1033.14 260.78L1030.14 261.04L1027.15 261.49L1024.16 262.13L1021.17 262.93L1018.18 263.9L1015.19 265.02L1012.19 266.27L1009.2 267.62L1006.21 269.06L1003.22 270.85L1000.23 273.51L997.24 277.34L994.24 282.05L991.25 286.99L988.26 291.7L985.27 296.04L982.28 299.93L979.29 303.28L976.29 306.04L973.3 308.15L970.31 309.59L967.32 310.31L964.33 310.32L961.34 309.63L958.34 308.28L955.35 306.31L952.36 303.76L949.37 300.71L946.38 297.27L943.39 293.56L940.39 289.81L937.4 286.23L934.41 283.01L931.42 280.24L928.43 277.91L925.44 275.99L922.44 274.4L919.45 273.08L916.46 271.94L913.47 270.94L910.48 270.06L907.49 269.31L904.49 268.68L901.5 268.2L898.51 267.84L895.52 267.61L892.53 267.52L889.54 267.56L886.54 267.72L883.55 268L880.56 268.4L877.57 268.95L874.58 269.84L871.59 271.39L868.59 273.87L865.6 277.21L862.61 281.01L859.62 284.84L856.63 288.44L853.64 291.69L850.64 294.5L847.65 296.8L844.66 298.54L841.67 299.68L838.68 300.22L835.69 300.12L832.69 299.39L829.7 298.03L826.71 296.08L823.72 293.58L820.73 290.61L817.74 287.24L814.74 283.6L811.75 279.82L808.76 276.16L805.77 272.9L802.78 270.29L799.79 268.38L796.79 267.04L793.8 266.11L790.81 265.43L787.82 264.97L784.83 264.7L781.84 264.6L778.84 264.66L775.85 264.89L772.86 265.27L769.87 265.8L766.88 266.49L763.89 267.32L760.89 268.3L757.9 269.4L754.91 270.63L751.92 271.99L748.93 273.57L745.94 275.51L742.94 277.98L739.95 281.04L736.96 284.68L733.97 288.74L730.98 292.94L727.99 297.03L724.99 300.82L722 304.18L719.01 307.02L716.02 309.26L713.03 310.85L710.04 311.76L707.04 311.96L704.05 311.44L701.06 310.21L698.07 308.29L695.08 305.72L692.09 302.55L689.09 298.85L686.1 294.69L683.11 290.18L680.12 285.51L677.13 281L674.14 277.12L671.14 274.16L668.15 272.02L665.16 270.38L662.17 268.95L659.18 267.63L656.19 266.41L653.19 265.33L650.2 264.38L647.21 263.59L644.22 262.98L641.23 262.55L638.24 262.29L635.24 262.23L632.25 262.36L629.26 262.68L626.27 263.2L623.28 263.93L620.29 264.88L617.29 266.11L614.3 267.73L611.31 269.87L608.32 272.61L605.33 275.92L602.34 279.62L599.34 283.47L596.35 287.24L593.36 290.76L590.37 293.9L587.38 296.57L584.39 298.69L581.39 300.22L578.4 301.13L575.41 301.42L572.42 301.06L569.43 300.08L566.44 298.47L563.44 296.29L560.45 293.58L557.46 290.41L554.47 286.87L551.48 283.01L548.49 279.15L545.49 275.86L542.5 273.63L539.51 272.45L536.52 271.83L533.53 271.37L530.54 270.97L527.54 270.65L524.55 270.42L521.56 270.29L518.57 270.27L515.58 270.36L512.58 270.57L509.59 270.9L506.6 271.35L503.61 271.9L500.62 272.56L497.63 273.35L494.63 274.29L491.64 275.39L488.65 276.72L485.66 278.33L482.67 280.29L479.68 282.67L476.68 285.51L473.69 288.76L470.7 292.23L467.71 295.68L464.72 298.91L461.73 301.76L458.73 304.14L455.74 305.96L452.75 307.14L449.76 307.66L446.77 307.49L443.78 306.64L440.78 305.1L437.79 302.9L434.8 300.09L431.81 296.72L428.82 292.87L425.83 288.64L422.83 284.15L419.84 279.65L416.85 275.51L413.86 272.09L410.87 269.49L407.88 267.54L404.88 265.97L401.89 264.63L398.9 263.45L395.91 262.44L392.92 261.59L389.93 260.93L386.93 260.46L383.94 260.18L380.95 260.1L377.96 260.22L374.97 260.53L371.98 261.05L368.98 261.75L365.99 262.63L363 263.69L360.01 264.93L357.02 266.37L354.03 268.1L351.03 270.32L348.04 273.26L345.05 276.95L342.06 281.18L339.07 285.6L336.08 289.9L333.08 293.9L330.09 297.48L327.1 300.55L324.11 303.06L321.12 304.95L318.13 306.19L315.13 306.74L312.14 306.6L309.15 305.79L306.16 304.34L303.17 302.28L300.18 299.69L297.18 296.66L294.19 293.33L291.2 289.86L288.21 286.51L285.22 283.5L282.23 280.97L279.23 278.93L276.24 277.27L273.25 275.93L270.26 274.82L267.27 273.9L264.28 273.12L261.28 272.46L258.29 271.93L255.3 271.5L252.31 271.18L249.32 270.98L246.33 270.89L243.33 270.91L240.34 271.05L237.35 271.28L234.36 271.6L231.37 272L228.38 272.47L225.38 273.07L222.39 274.01L219.4 275.69L216.41 278.38L213.42 281.89L210.43 285.7L207.43 289.38L204.44 292.72L201.45 295.65L198.46 298.08L195.47 299.96L192.48 301.25L189.48 301.91L186.49 301.93L183.5 301.29L180.51 300.02L177.52 298.15L174.53 295.71L171.53 292.76L168.54 289.37L165.55 285.66L162.56 281.77L159.57 277.9L156.58 274.33L153.58 271.25L150.59 268.76L147.6 266.82L144.61 265.34L141.62 264.19L138.63 263.28L135.63 262.58L132.64 262.08L129.65 261.78L126.66 261.68L123.67 261.78L120.68 262.07L117.68 262.54L114.69 263.19L111.7 264L108.71 264.98L105.72 266.1L102.73 267.35L99.73 268.7L96.74 270.15L93.75 271.86L90.76 273.79L87.77 275.49Z" fill="#000" fill-opacity="0.225" stroke="#000" stroke-opacity="0.25" stroke-width="1.2" stroke-linejoin="round" clip-path="url(#cA)"/>
<path d="M87.77 274.89L90.76 271.78L93.75 268.71L96.74 265.72L99.73 262.88L102.73 260.24L105.72 257.85L108.71 255.75L111.7 253.99L114.69 252.58L117.68 251.57L120.68 250.95L123.67 250.75L126.66 250.96L129.65 251.57L132.64 252.57L135.63 253.93L138.63 255.62L141.62 257.6L144.61 259.83L147.6 262.27L150.59 264.85L153.58 267.53L156.58 270.25L159.57 272.95L162.56 275.57L165.55 278.07L168.54 280.39L171.53 282.49L174.53 284.33L177.52 285.86L180.51 287.06L183.5 287.91L186.49 288.4L189.48 288.52L192.48 288.26L195.47 287.65L198.46 286.7L201.45 285.44L204.44 283.89L207.43 282.09L210.43 280.09L213.42 277.93L216.41 275.67L219.4 273.36L222.39 271.04L225.38 268.78L228.38 266.63L231.37 264.63L234.36 262.84L237.35 261.29L240.34 260.02L243.33 259.06L246.33 258.44L249.32 258.17L252.31 258.25L255.3 258.7L258.29 259.5L261.28 260.64L264.28 262.1L267.27 263.83L270.26 265.82L273.25 268.02L276.24 270.37L279.23 272.84L282.23 275.37L285.22 277.9L288.21 280.37L291.2 282.74L294.19 284.95L297.18 286.95L300.18 288.7L303.17 290.15L306.16 291.27L309.15 292.03L312.14 292.41L315.13 292.4L318.13 292L321.12 291.19L324.11 290.01L327.1 288.45L330.09 286.56L333.08 284.37L336.08 281.91L339.07 279.24L342.06 276.39L345.05 273.44L348.04 270.42L351.03 267.41L354.03 264.46L357.02 261.63L360.01 258.97L363 256.54L365.99 254.38L368.98 252.54L371.98 251.05L374.97 249.95L377.96 249.25L380.95 248.97L383.94 249.11L386.93 249.68L389.93 250.66L392.92 252.03L395.91 253.77L398.9 255.84L401.89 258.2L404.88 260.81L407.88 263.62L410.87 266.56L413.86 269.59L416.85 272.64L419.84 275.66L422.83 278.59L425.83 281.37L428.82 283.96L431.81 286.29L434.8 288.33L437.79 290.04L440.78 291.4L443.78 292.38L446.77 292.95L449.76 293.13L452.75 292.91L455.74 292.29L458.73 291.3L461.73 289.97L464.72 288.31L467.71 286.38L470.7 284.21L473.69 281.86L476.68 279.38L479.68 276.81L482.67 274.22L485.66 271.67L488.65 269.19L491.64 266.86L494.63 264.71L497.63 262.79L500.62 261.14L503.61 259.8L506.6 258.78L509.59 258.12L512.58 257.81L515.58 257.86L518.57 258.28L521.56 259.04L524.55 260.13L527.54 261.52L530.54 263.17L533.53 265.05L536.52 267.11L539.51 269.31L542.5 271.59L545.49 273.9L548.49 276.19L551.48 278.4L554.47 280.48L557.46 282.39L560.45 284.07L563.44 285.5L566.44 286.62L569.43 287.42L572.42 287.87L575.41 287.96L578.4 287.68L581.39 287.04L584.39 286.05L587.38 284.71L590.37 283.07L593.36 281.14L596.35 278.97L599.34 276.61L602.34 274.09L605.33 271.48L608.32 268.82L611.31 266.18L614.3 263.6L617.29 261.15L620.29 258.87L623.28 256.82L626.27 255.04L629.26 253.58L632.25 252.45L635.24 251.71L638.24 251.35L641.23 251.4L644.22 251.85L647.21 252.71L650.2 253.96L653.19 255.58L656.19 257.55L659.18 259.82L662.17 262.35L665.16 265.1L668.15 268.02L671.14 271.05L674.14 274.13L677.13 277.21L680.12 280.22L683.11 283.11L686.1 285.82L689.09 288.3L692.09 290.5L695.08 292.38L698.07 293.91L701.06 295.05L704.05 295.78L707.04 296.1L710.04 295.99L713.03 295.46L716.02 294.52L719.01 293.19L722 291.5L724.99 289.48L727.99 287.18L730.98 284.63L733.97 281.9L736.96 279.03L739.95 276.08L742.94 273.11L745.94 270.18L748.93 267.35L751.92 264.66L754.91 262.18L757.9 259.94L760.89 257.99L763.89 256.37L766.88 255.1L769.87 254.21L772.86 253.7L775.85 253.58L778.84 253.86L781.84 254.51L784.83 255.52L787.82 256.86L790.81 258.5L793.8 260.4L796.79 262.52L799.79 264.8L802.78 267.2L805.77 269.66L808.76 272.13L811.75 274.55L814.74 276.87L817.74 279.04L820.73 281.02L823.72 282.75L826.71 284.2L829.7 285.35L832.69 286.16L835.69 286.63L838.68 286.73L841.67 286.48L844.66 285.88L847.65 284.94L850.64 283.69L853.64 282.15L856.63 280.36L859.62 278.37L862.61 276.21L865.6 273.94L868.59 271.6L871.59 269.26L874.58 266.97L877.57 264.77L880.56 262.72L883.55 260.88L886.54 259.27L889.54 257.95L892.53 256.94L895.52 256.27L898.51 255.96L901.5 256.02L904.49 256.46L907.49 257.27L910.48 258.44L913.47 259.95L916.46 261.77L919.45 263.87L922.44 266.21L925.44 268.73L928.43 271.4L931.42 274.16L934.41 276.95L937.4 279.71L940.39 282.39L943.39 284.94L946.38 287.3L949.37 289.41L952.36 291.24L955.35 292.75L958.34 293.89L961.34 294.66L964.33 295.02L967.32 294.96L970.31 294.49L973.3 293.61L976.29 292.33L979.29 290.68L982.28 288.68L985.27 286.38L988.26 283.81L991.25 281.02L994.24 278.06L997.24 275L1000.23 271.89L1003.22 268.78L1006.21 265.74L1009.2 262.83L1012.19 260.1L1015.19 257.6L1018.18 255.38L1021.17 253.48L1024.16 251.94L1027.15 250.78L1030.14 250.02L1033.14 249.68L1036.13 249.76L1039.12 250.26L1042.11 251.16L1045.1 252.44L1048.09 254.08L1051.09 256.03L1054.08 258.27L1057.07 260.73L1060.06 263.38L1063.05 266.15L1066.04 268.99L1069.04 271.85L1072.03 274.66L1075.02 277.37L1078.01 279.93L1081 282.28L1083.99 284.38L1086.99 286.2L1089.98 287.69L1092.97 288.84L1095.96 289.62L1098.95 290.02L1101.94 290.04L1104.94 289.68L1107.93 288.96L1110.92 287.9L1113.91 286.52L1116.9 284.86L1119.89 282.96L1122.89 280.86L1125.88 278.62L1128.87 276.28L1131.86 273.9L1134.85 271.54L1137.84 269.24L1140.84 267.06L1143.83 265.04L1146.82 263.24L1149.81 261.69L1152.8 260.43L1155.79 259.48L1158.79 258.88L1161.78 258.62L1164.77 258.72L1167.76 259.18L1170.75 259.98L1173.75 261.11L1176.74 262.55L1179.73 264.26L1182.72 266.2L1185.71 268.34L1188.7 270.62L1191.7 272.99L1194.69 275.41L1197.68 277.81L1200.67 280.15L1203.66 282.36L1206.65 284.41L1209.65 286.23L1212.64 287.8L1215.63 289.06L1218.62 289.99L1221.61 290.56L1224.6 290.76L1227.6 290.58L1230.59 290.01L1233.58 289.06L1236.57 287.75L1239.56 286.09L1242.55 284.12L1245.55 281.87L1248.54 279.39L1251.53 276.72L1254.52 273.91L1257.51 271.03L1260.5 268.12L1263.5 265.24L1266.49 262.46L1269.48 259.82L1272.47 257.38L1275.46 255.2L1278.45 253.31L1281.45 251.75L1284.44 250.57L1287.43 249.77L1290.42 249.39L1293.41 249.42L1296.4 249.88L1299.4 250.76L1302.39 252.03L1305.38 253.68L1308.37 255.68L1311.36 257.98L1314.35 260.55L1317.35 263.34L1320.34 266.29L1323.33 269.35L1326.32 272.45L1329.31 275.55L1332.3 278.57L1335.3 281.47L1338.29 284.19L1341.28 286.67L1344.27 288.88L1347.26 290.76L1350.25 292.29L1353.25 293.45L1356.24 294.2L1359.23 294.54L1362.22 294.47L1365.21 293.99L1368.2 293.12L1371.2 291.88L1374.19 290.29L1377.18 288.39L1380.17 286.23L1383.16 283.85L1386.15 281.3L1389.15 278.64L1392.14 275.92L1395.13 273.19L1398.12 270.52L1401.11 267.96L1404.1 265.56L1407.1 263.36L1410.09 261.42L1413.08 259.76L1416.07 258.43L1419.06 257.44L1422.05 256.82L1425.05 256.56L1428.04 256.67L1431.03 257.15L1434.02 257.98L1437.01 259.13L1440 260.58L1443 262.29L1445.99 264.23L1448.98 266.33L1451.97 268.56L1454.96 270.87L1457.95 273.19L1460.95 275.48L1463.94 277.68L1466.93 279.75L1469.92 281.63L1472.91 283.28L1475.9 284.66L1478.9 285.74L1481.89 286.5L1484.88 286.91L1487.87 286.96L1490.86 286.65L1493.85 285.99L1496.85 284.98L1499.84 283.65L1502.83 282.02L1505.82 280.13L1508.81 278.01L1511.8 275.72L1514.8 273.3L1517.79 270.8L1520.78 268.28L1523.77 265.79L1526.76 263.38L1529.75 261.12L1532.75 259.05L1535.74 257.21L1538.73 255.66L1541.72 254.42L1544.71 253.54L1547.7 253.02L1550.7 252.89L1553.69 253.16L1556.68 253.83L1559.67 254.88L1562.66 256.3L1565.65 258.07L1568.65 260.16L1571.64 262.52L1574.63 265.12L1577.62 267.91L1580.61 270.82L1583.6 273.81L1586.6 276.82L1589.59 279.79L1592.58 282.66L1595.57 285.38L1598.56 287.89L1601.55 290.14L1604.55 292.08L1607.54 293.69L1610.53 294.92L1613.52 295.76L1616.51 296.17L1619.5 296.17L1622.5 295.74L1625.49 294.89L1628.48 293.65L1631.47 292.03L1634.46 290.06L1637.45 287.78L1640.45 285.25L1643.44 282.5L1646.43 279.59L1649.42 276.58L1652.41 273.52L1655.4 270.47L1658.4 267.5L1661.39 264.65L1664.38 261.99L1667.37 259.56L1670.36 257.41L1673.35 255.58L1676.35 254.09L1679.34 252.98L1682.33 252.26L1685.32 251.95L1688.31 252.03L1691.3 252.52L1694.3 253.38L1697.29 254.61L1700.28 256.16L1703.27 258.01L1706.26 260.1L1709.25 262.41L1712.25 264.86L1715.24 267.41L1718.23 270.01L1721.22 272.6L1724.21 275.12L1727.2 277.53L1730.2 279.76L1733.19 281.78L1736.18 283.54L1739.17 285.01L1742.16 286.15L1745.15 286.96L1748.15 287.41L1751.14 287.49L1754.13 287.21L1757.12 286.58L1760.11 285.61L1763.1 284.34L1766.1 282.78L1769.09 280.98L1772.08 278.98L1775.07 276.83L1778.06 274.58L1781.05 272.27L1784.05 269.97L1787.04 267.73L1790.03 265.59L1793.02 263.61L1796.01 261.84L1799.01 260.32L1802 259.08L1804.99 258.15L1807.98 257.57L1810.97 257.34L1813.96 257.48L1816.96 257.98L1819.95 258.84L1822.94 260.04L1825.93 261.57L1828.92 263.39L1831.91 265.46L1834.91 267.75L1837.9 270.2L1840.89 272.77L1843.88 275.41L1846.87 278.05L1849.86 280.65L1852.86 283.14L1855.85 285.47L1858.84 287.6L1861.83 289.47L1864.82 291.04L1867.81 292.28L1870.81 293.16L1873.8 293.65L1876.79 293.74L1879.78 293.42L1882.77 292.7L1885.76 291.58L1888.76 290.09L1891.75 288.24L1894.74 286.08L1897.73 283.63L1900.72 280.95L1903.71 278.09L1906.71 275.1L1909.7 272.03L1912.69 268.95L1915.68 265.92L1918.67 262.99L1921.66 260.21L1924.66 257.65L1927.65 255.36L1930.64 253.37L1933.63 251.72L1936.62 250.45L1939.61 249.58L1942.61 249.12L1945.6 249.09L1948.59 249.49L1951.58 250.29L1954.57 251.5L1957.56 253.08L1960.56 254.99L1963.55 257.21L1966.54 259.69L1969.53 262.38L1972.52 265.21L1975.51 268.15L1978.51 271.13L1981.5 274.09L1984.49 276.97L1987.48 279.72L1990.47 282.29L1993.46 284.63L1996.46 286.69L1999.45 288.43" fill="none" stroke="#bd1e3c" stroke-width="5.5" clip-path="url(#cA)"/>
<g clip-path="url(#cA)">
<path d="M149.09 267.6V377.8M208.83 259.1V377.8M232.77 201.4V334.9M316.12 310.4V402.3M340.45 198.7V342.4M495.11 106V256.6M625.81 269.9V372.9M637.79 204V307M1174 159.7V261.6M1186.29 285.6V417.8M1197.89 196.6V291.9M1507.62 247.8V349.7M1531.55 252.8V353.3M1555.57 173.4V278.4M1591.51 252.8V352.1M1603.13 141.3V249.4M1614.91 212.3V315.5M1638.72 180.6V275M1650.56 260.2V355.7M1912.82 228.3V327.7M1925.18 288.6V392.5M1936.82 183.3V281.2" stroke="#000" stroke-width="3.0" fill="none"/>
<path d="M139.34 267.6h19.5M139.34 377.8h19.5M199.08 259.1h19.5M199.08 377.8h19.5M223.02 201.4h19.5M223.02 334.9h19.5M306.37 310.4h19.5M306.37 402.3h19.5M330.7 198.7h19.5M330.7 342.4h19.5M485.36 106h19.5M485.36 256.6h19.5M616.06 269.9h19.5M616.06 372.9h19.5M628.04 204h19.5M628.04 307h19.5M1164.25 159.7h19.5M1164.25 261.6h19.5M1176.54 285.6h19.5M1176.54 417.8h19.5M1188.14 196.6h19.5M1188.14 291.9h19.5M1497.87 247.8h19.5M1497.87 349.7h19.5M1521.8 252.8h19.5M1521.8 353.3h19.5M1545.82 173.4h19.5M1545.82 278.4h19.5M1581.76 252.8h19.5M1581.76 352.1h19.5M1593.38 141.3h19.5M1593.38 249.4h19.5M1605.16 212.3h19.5M1605.16 315.5h19.5M1628.97 180.6h19.5M1628.97 275h19.5M1640.81 260.2h19.5M1640.81 355.7h19.5M1903.07 228.3h19.5M1903.07 327.7h19.5M1915.43 288.6h19.5M1915.43 392.5h19.5M1927.07 183.3h19.5M1927.07 281.2h19.5" stroke="#000" stroke-width="1.7" fill="none"/>
<g fill="#000"><circle cx="149.09" cy="323" r="7.9"/><circle cx="208.83" cy="318.1" r="7.9"/><circle cx="232.77" cy="267.8" r="7.9"/><circle cx="316.12" cy="355.7" r="7.9"/><circle cx="340.45" cy="270.3" r="7.9"/><circle cx="495.11" cy="181.7" r="7.9"/><circle cx="625.81" cy="321.6" r="7.9"/><circle cx="637.79" cy="255.7" r="7.9"/><circle cx="1174" cy="210.1" r="7.9"/><circle cx="1186.29" cy="352.2" r="7.9"/><circle cx="1197.89" cy="244.2" r="7.9"/><circle cx="1507.62" cy="298.4" r="7.9"/><circle cx="1531.55" cy="303.3" r="7.9"/><circle cx="1555.57" cy="225.8" r="7.9"/><circle cx="1591.51" cy="303.3" r="7.9"/><circle cx="1603.13" cy="195.2" r="7.9"/><circle cx="1614.91" cy="264" r="7.9"/><circle cx="1638.72" cy="226.9" r="7.9"/><circle cx="1650.56" cy="308.3" r="7.9"/><circle cx="1912.82" cy="278.5" r="7.9"/><circle cx="1925.18" cy="341" r="7.9"/><circle cx="1936.82" cy="232.4" r="7.9"/></g>
</g>
<g clip-path="url(#cAR)">
<path d="M149.09 518.4V563M208.83 507.8V555.6M232.77 491.75V545.9M316.12 525V560.3M340.45 485.3V543.2M495.11 453.95V513.8M625.81 523.4V564M637.79 497.75V539.6M1174 476.9V517.5M1186.29 523.7V576.2M1197.89 484.25V522.3M1507.62 504.95V545.75M1531.55 514.85V554.45M1555.57 485.45V527.3M1591.51 506.15V545.75M1603.13 457.55V500.15M1614.91 483.05V525.05M1638.72 474.5V512.75M1650.56 511.4V549.5M1912.82 501.3V540.8M1925.18 529.9V571.3M1936.82 490.4V529.9" stroke="#000" stroke-width="3.0" fill="none"/>
<path d="M139.34 518.4h19.5M139.34 563h19.5M199.08 507.8h19.5M199.08 555.6h19.5M223.02 491.75h19.5M223.02 545.9h19.5M306.37 525h19.5M306.37 560.3h19.5M330.7 485.3h19.5M330.7 543.2h19.5M485.36 453.95h19.5M485.36 513.8h19.5M616.06 523.4h19.5M616.06 564h19.5M628.04 497.75h19.5M628.04 539.6h19.5M1164.25 476.9h19.5M1164.25 517.5h19.5M1176.54 523.7h19.5M1176.54 576.2h19.5M1188.14 484.25h19.5M1188.14 522.3h19.5M1497.87 504.95h19.5M1497.87 545.75h19.5M1521.8 514.85h19.5M1521.8 554.45h19.5M1545.82 485.45h19.5M1545.82 527.3h19.5M1581.76 506.15h19.5M1581.76 545.75h19.5M1593.38 457.55h19.5M1593.38 500.15h19.5M1605.16 483.05h19.5M1605.16 525.05h19.5M1628.97 474.5h19.5M1628.97 512.75h19.5M1640.81 511.4h19.5M1640.81 549.5h19.5M1903.07 501.3h19.5M1903.07 540.8h19.5M1915.43 529.9h19.5M1915.43 571.3h19.5M1927.07 490.4h19.5M1927.07 529.9h19.5" stroke="#000" stroke-width="1.7" fill="none"/>
<g fill="#000"><circle cx="149.09" cy="540.9" r="7.9"/><circle cx="208.83" cy="532.5" r="7.9"/><circle cx="232.77" cy="518.75" r="7.9"/><circle cx="316.12" cy="542.3" r="7.9"/><circle cx="340.45" cy="513.8" r="7.9"/><circle cx="495.11" cy="484.4" r="7.9"/><circle cx="625.81" cy="543.5" r="7.9"/><circle cx="637.79" cy="518.6" r="7.9"/><circle cx="1174" cy="496.7" r="7.9"/><circle cx="1186.29" cy="550.7" r="7.9"/><circle cx="1197.89" cy="504" r="7.9"/><circle cx="1507.62" cy="525.05" r="7.9"/><circle cx="1531.55" cy="534.8" r="7.9"/><circle cx="1555.57" cy="506.3" r="7.9"/><circle cx="1591.51" cy="526.1" r="7.9"/><circle cx="1603.13" cy="478.25" r="7.9"/><circle cx="1614.91" cy="504.05" r="7.9"/><circle cx="1638.72" cy="492.8" r="7.9"/><circle cx="1650.56" cy="530" r="7.9"/><circle cx="1912.82" cy="521.2" r="7.9"/><circle cx="1925.18" cy="550.9" r="7.9"/><circle cx="1936.82" cy="510" r="7.9"/></g>
</g>
<path d="M84.46 956.24L88.21 956.23L91.96 956.21L95.71 955.2L99.46 953.68L103.22 952.16L106.97 950.64L110.72 949.12L114.47 947.6L118.22 946.1L121.97 944.59L125.72 943.1L129.47 941.61L133.22 940.13L136.97 938.67L140.73 937.21L144.48 935.77L148.23 934.34L151.98 932.93L155.73 931.53L159.48 930.15L163.23 928.79L166.98 927.44L170.73 926.12L174.48 924.82L178.23 923.54L181.99 922.29L185.74 921.06L189.49 919.85L193.24 918.67L196.99 917.52L200.74 916.4L204.49 915.3L208.24 914.24L211.99 913.21L215.74 912.21L219.5 911.24L223.25 910.3L227 909.4L230.75 908.54L234.5 907.71L238.25 906.91L242 906.16L245.75 905.44L249.5 904.76L253.25 904.12L257 903.52L260.76 902.95L264.51 902.43L268.26 901.95L272.01 901.51L275.76 901.11L279.51 900.76L283.26 900.44L287.01 900.17L290.76 899.94L294.51 899.76L298.27 899.62L302.02 899.52L305.77 899.46L309.52 899.45L313.27 899.48L317.02 899.55L320.77 899.67L324.52 899.83L328.27 900.04L332.02 900.28L335.77 900.57L339.53 900.9L343.28 901.28L347.03 901.7L350.78 902.15L354.53 902.65L358.28 903.19L362.03 903.77L365.78 904.39L369.53 905.05L373.28 905.75L377.04 906.48L380.79 907.26L384.54 908.07L388.29 908.91L392.04 909.8L395.79 910.71L399.54 911.66L403.29 912.65L407.04 913.66L410.79 914.71L414.54 915.79L418.3 916.9L422.05 918.04L425.8 919.2L429.55 920.39L433.3 921.61L437.05 922.86L440.8 924.12L444.55 925.41L448.3 926.73L452.05 928.06L455.81 929.42L459.56 930.79L463.31 932.18L467.06 933.59L470.81 935.01L474.56 936.45L478.31 937.9L482.06 939.36L485.81 940.84L489.56 942.32L493.31 943.82L497.07 945.32L500.82 946.83L504.57 948.34L508.32 949.86L512.07 951.38L515.82 952.91L519.57 954.43L523.32 955.96L527.07 956.22L530.82 956.24L534.58 956.25L538.33 956.27L542.08 956.29L545.83 956.31L549.58 956.33L553.33 956.35L557.08 956.37L560.83 956.39L564.58 956.4L568.33 956.42L572.09 956.44L575.84 956.46L579.59 956.48L583.34 956.49L587.09 956.51L590.84 956.53L594.59 956.54L598.34 956.56L602.09 956.58L605.84 956.59L609.59 956.61L613.35 956.62L617.1 956.64L620.85 956.65L624.6 956.67L628.35 956.68L632.1 956.7L635.85 956.71L639.6 956.72L643.35 956.74L647.1 956.75L650.86 956.76L654.61 956.77L658.36 956.78L662.11 956.79L665.86 956.8L669.61 956.81L673.36 956.82L677.11 956.83L680.86 956.84L684.61 956.85L688.36 956.86L692.12 956.86L695.87 956.87L699.62 956.88L703.37 956.88L707.12 956.89L710.87 956.89L714.62 956.9L718.37 956.9L722.12 956.9L725.87 956.91L729.63 956.91L733.38 956.91L737.13 956.91L740.88 956.92L744.63 956.92L748.38 956.92L752.13 956.92L755.88 956.92L759.63 956.91L763.38 956.91L767.13 956.91L770.89 956.91L774.64 956.9L778.39 956.9L782.14 956.9L785.89 956.89L789.64 956.89L793.39 956.88L797.14 956.88L800.89 956.87L804.64 956.86L808.4 956.85L812.15 956.85L815.9 956.84L819.65 956.83L823.4 956.82L827.15 956.81L830.9 956.8L834.65 956.79L838.4 956.78L842.15 956.77L845.9 956.76L849.66 956.74L853.41 956.73L857.16 956.72L860.91 956.71L864.66 956.69L868.41 956.68L872.16 956.67L875.91 956.65L879.66 956.64L883.41 956.62L887.17 956.61L890.92 956.59L894.67 956.57L898.42 956.56L902.17 956.54L905.92 956.52L909.67 956.51L913.42 956.49L917.17 956.47L920.92 956.46L924.67 956.44L928.43 956.42L932.18 956.4L935.93 956.38L939.68 956.36L943.43 956.35L947.18 956.33L950.93 956.31L954.68 956.29L958.43 956.27L962.18 956.25L965.94 956.23L969.69 956.21L973.44 955.68L977.19 954.16L980.94 952.63L980.94 956.15L977.19 956.17L973.44 956.19L969.69 957.2L965.94 958.72L962.18 960.24L958.43 961.75L954.68 963.25L950.93 964.76L947.18 966.25L943.43 967.73L939.68 969.21L935.93 970.68L932.18 972.13L928.43 973.57L924.67 975L920.92 976.41L917.17 977.81L913.42 979.19L909.67 980.56L905.92 981.9L902.17 983.23L898.42 984.54L894.67 985.83L890.92 987.09L887.17 988.34L883.41 989.56L879.66 990.75L875.91 991.92L872.16 993.07L868.41 994.19L864.66 995.28L860.91 996.35L857.16 997.39L853.41 998.39L849.66 999.37L845.9 1000.32L842.15 1001.24L838.4 1002.13L834.65 1002.98L830.9 1003.8L827.15 1004.59L823.4 1005.35L819.65 1006.07L815.9 1006.76L812.15 1007.42L808.4 1008.04L804.64 1008.62L800.89 1009.17L797.14 1009.68L793.39 1010.16L789.64 1010.6L785.89 1011L782.14 1011.36L778.39 1011.69L774.64 1011.98L770.89 1012.23L767.13 1012.45L763.38 1012.63L759.63 1012.77L755.88 1012.87L752.13 1012.93L748.38 1012.95L744.63 1012.94L740.88 1012.89L737.13 1012.8L733.38 1012.67L729.63 1012.5L725.87 1012.29L722.12 1012.05L718.37 1011.77L714.62 1011.45L710.87 1011.1L707.12 1010.7L703.37 1010.27L699.62 1009.81L695.87 1009.3L692.12 1008.76L688.36 1008.19L684.61 1007.58L680.86 1006.93L677.11 1006.25L673.36 1005.54L669.61 1004.79L665.86 1004L662.11 1003.19L658.36 1002.34L654.61 1001.46L650.86 1000.55L647.1 999.61L643.35 998.63L639.6 997.63L635.85 996.6L632.1 995.54L628.35 994.45L624.6 993.33L620.85 992.19L617.1 991.02L613.35 989.83L609.59 988.61L605.84 987.37L602.09 986.11L598.34 984.83L594.59 983.52L590.84 982.2L587.09 980.85L583.34 979.49L579.59 978.11L575.84 976.71L572.09 975.3L568.33 973.87L564.58 972.43L560.83 970.97L557.08 969.51L553.33 968.03L549.58 966.54L545.83 965.05L542.08 963.55L538.33 962.04L534.58 960.52L530.82 959L527.07 957.48L523.32 956.2L519.57 956.18L515.82 956.16L512.07 956.14L508.32 956.12L504.57 956.1L500.82 956.08L497.07 956.06L493.31 956.04L489.56 956.02L485.81 956.01L482.06 955.99L478.31 955.97L474.56 955.95L470.81 955.93L467.06 955.91L463.31 955.9L459.56 955.88L455.81 955.86L452.05 955.84L448.3 955.83L444.55 955.81L440.8 955.8L437.05 955.78L433.3 955.76L429.55 955.75L425.8 955.73L422.05 955.72L418.3 955.7L414.54 955.69L410.79 955.68L407.04 955.66L403.29 955.65L399.54 955.64L395.79 955.63L392.04 955.61L388.29 955.6L384.54 955.59L380.79 955.58L377.04 955.57L373.28 955.56L369.53 955.55L365.78 955.55L362.03 955.54L358.28 955.53L354.53 955.52L350.78 955.52L347.03 955.51L343.28 955.51L339.53 955.5L335.77 955.5L332.02 955.49L328.27 955.49L324.52 955.49L320.77 955.49L317.02 955.49L313.27 955.48L309.52 955.48L305.77 955.48L302.02 955.48L298.27 955.49L294.51 955.49L290.76 955.49L287.01 955.49L283.26 955.5L279.51 955.5L275.76 955.5L272.01 955.51L268.26 955.52L264.51 955.52L260.76 955.53L257 955.54L253.25 955.54L249.5 955.55L245.75 955.56L242 955.57L238.25 955.58L234.5 955.59L230.75 955.6L227 955.61L223.25 955.62L219.5 955.63L215.74 955.64L211.99 955.66L208.24 955.67L204.49 955.68L200.74 955.7L196.99 955.71L193.24 955.73L189.49 955.74L185.74 955.76L181.99 955.77L178.23 955.79L174.48 955.8L170.73 955.82L166.98 955.84L163.23 955.85L159.48 955.87L155.73 955.89L151.98 955.91L148.23 955.92L144.48 955.94L140.73 955.96L136.97 955.98L133.22 956L129.47 956.02L125.72 956.03L121.97 956.05L118.22 956.07L114.47 956.09L110.72 956.11L106.97 956.13L103.22 956.15L99.46 956.17L95.71 956.19L91.96 956.72L88.21 958.24L84.46 959.76Z" fill="#000" fill-opacity="0.09" stroke="#000" stroke-opacity="0.13" stroke-width="1.2" stroke-linejoin="round" clip-path="url(#cB)"/>
<path d="M84.46 956.68L88.21 956.47L91.96 956.27L95.71 955.6L99.46 954.68L103.22 953.77L106.97 952.85L110.72 951.94L114.47 951.03L118.22 950.12L121.97 949.21L125.72 948.31L129.47 947.42L133.22 946.53L136.97 945.65L140.73 944.77L144.48 943.9L148.23 943.04L151.98 942.19L155.73 941.35L159.48 940.52L163.23 939.7L166.98 938.89L170.73 938.09L174.48 937.31L178.23 936.54L181.99 935.79L185.74 935.04L189.49 934.32L193.24 933.61L196.99 932.92L200.74 932.24L204.49 931.58L208.24 930.94L211.99 930.32L215.74 929.72L219.5 929.14L223.25 928.57L227 928.03L230.75 927.51L234.5 927.01L238.25 926.53L242 926.08L245.75 925.65L249.5 925.24L253.25 924.85L257 924.49L260.76 924.15L264.51 923.83L268.26 923.55L272.01 923.28L275.76 923.04L279.51 922.83L283.26 922.64L287.01 922.47L290.76 922.34L294.51 922.23L298.27 922.14L302.02 922.08L305.77 922.05L309.52 922.04L313.27 922.06L317.02 922.1L320.77 922.17L324.52 922.27L328.27 922.39L332.02 922.54L335.77 922.72L339.53 922.92L343.28 923.14L347.03 923.39L350.78 923.67L354.53 923.97L358.28 924.29L362.03 924.64L365.78 925.01L369.53 925.41L373.28 925.83L377.04 926.27L380.79 926.74L384.54 927.23L388.29 927.74L392.04 928.27L395.79 928.82L399.54 929.39L403.29 929.98L407.04 930.6L410.79 931.23L414.54 931.88L418.3 932.54L422.05 933.23L425.8 933.93L429.55 934.65L433.3 935.38L437.05 936.13L440.8 936.89L444.55 937.67L448.3 938.46L452.05 939.26L455.81 940.08L459.56 940.9L463.31 941.74L467.06 942.59L470.81 943.44L474.56 944.31L478.31 945.18L482.06 946.06L485.81 946.95L489.56 947.85L493.31 948.75L497.07 949.65L500.82 950.56L504.57 951.47L508.32 952.38L512.07 953.3L515.82 954.22L519.57 955.14L523.32 956.05L527.07 956.37L530.82 956.58L534.58 956.78L538.33 956.98L542.08 957.18L545.83 957.39L549.58 957.59L553.33 957.78L557.08 957.98L560.83 958.18L564.58 958.37L568.33 958.57L572.09 958.76L575.84 958.95L579.59 959.13L583.34 959.32L587.09 959.5L590.84 959.68L594.59 959.86L598.34 960.04L602.09 960.21L605.84 960.38L609.59 960.54L613.35 960.71L617.1 960.87L620.85 961.02L624.6 961.18L628.35 961.32L632.1 961.47L635.85 961.61L639.6 961.75L643.35 961.89L647.1 962.02L650.86 962.14L654.61 962.26L658.36 962.38L662.11 962.5L665.86 962.6L669.61 962.71L673.36 962.81L677.11 962.91L680.86 963L684.61 963.08L688.36 963.17L692.12 963.24L695.87 963.31L699.62 963.38L703.37 963.44L707.12 963.5L710.87 963.56L714.62 963.6L718.37 963.65L722.12 963.68L725.87 963.72L729.63 963.74L733.38 963.77L737.13 963.78L740.88 963.79L744.63 963.8L748.38 963.8L752.13 963.8L755.88 963.79L759.63 963.78L763.38 963.76L767.13 963.74L770.89 963.71L774.64 963.67L778.39 963.63L782.14 963.59L785.89 963.54L789.64 963.49L793.39 963.43L797.14 963.37L800.89 963.3L804.64 963.22L808.4 963.15L812.15 963.06L815.9 962.97L819.65 962.88L823.4 962.79L827.15 962.68L830.9 962.58L834.65 962.47L838.4 962.35L842.15 962.23L845.9 962.11L849.66 961.98L853.41 961.85L857.16 961.72L860.91 961.58L864.66 961.44L868.41 961.29L872.16 961.14L875.91 960.99L879.66 960.83L883.41 960.67L887.17 960.51L890.92 960.34L894.67 960.17L898.42 960L902.17 959.82L905.92 959.64L909.67 959.46L913.42 959.28L917.17 959.1L920.92 958.91L924.67 958.72L928.43 958.53L932.18 958.33L935.93 958.14L939.68 957.94L943.43 957.75L947.18 957.55L950.93 957.35L954.68 957.15L958.43 956.94L962.18 956.74L965.94 956.54L969.69 956.33L973.44 955.89L977.19 954.97L980.94 954.05L980.94 955.72L977.19 955.93L973.44 956.13L969.69 956.8L965.94 957.72L962.18 958.63L958.43 959.54L954.68 960.45L950.93 961.35L947.18 962.25L943.43 963.14L939.68 964.03L935.93 964.91L932.18 965.79L928.43 966.66L924.67 967.52L920.92 968.37L917.17 969.21L913.42 970.04L909.67 970.86L905.92 971.67L902.17 972.47L898.42 973.26L894.67 974.03L890.92 974.8L887.17 975.54L883.41 976.28L879.66 977L875.91 977.7L872.16 978.39L868.41 979.07L864.66 979.73L860.91 980.37L857.16 980.99L853.41 981.6L849.66 982.19L845.9 982.76L842.15 983.31L838.4 983.85L834.65 984.36L830.9 984.86L827.15 985.33L823.4 985.79L819.65 986.22L815.9 986.64L812.15 987.03L808.4 987.4L804.64 987.75L800.89 988.08L797.14 988.39L793.39 988.68L789.64 988.94L785.89 989.19L782.14 989.41L778.39 989.6L774.64 989.78L770.89 989.93L767.13 990.06L763.38 990.17L759.63 990.25L755.88 990.31L752.13 990.35L748.38 990.36L744.63 990.35L740.88 990.32L737.13 990.27L733.38 990.19L729.63 990.09L725.87 989.97L722.12 989.82L718.37 989.65L714.62 989.46L710.87 989.24L707.12 989.01L703.37 988.75L699.62 988.47L695.87 988.17L692.12 987.84L688.36 987.49L684.61 987.13L680.86 986.74L677.11 986.33L673.36 985.9L669.61 985.45L665.86 984.98L662.11 984.48L658.36 983.97L654.61 983.44L650.86 982.9L647.1 982.33L643.35 981.74L639.6 981.14L635.85 980.52L632.1 979.88L628.35 979.22L624.6 978.55L620.85 977.87L617.1 977.16L613.35 976.44L609.59 975.71L605.84 974.97L602.09 974.21L598.34 973.43L594.59 972.65L590.84 971.85L587.09 971.04L583.34 970.22L579.59 969.39L575.84 968.54L572.09 967.69L568.33 966.83L564.58 965.97L560.83 965.09L557.08 964.21L553.33 963.32L549.58 962.43L545.83 961.53L542.08 960.62L538.33 959.71L534.58 958.8L530.82 957.89L527.07 956.97L523.32 956.17L519.57 955.96L515.82 955.76L512.07 955.55L508.32 955.35L504.57 955.15L500.82 954.94L497.07 954.74L493.31 954.54L489.56 954.34L485.81 954.14L482.06 953.94L478.31 953.75L474.56 953.55L470.81 953.36L467.06 953.17L463.31 952.98L459.56 952.8L455.81 952.61L452.05 952.43L448.3 952.25L444.55 952.08L440.8 951.9L437.05 951.73L433.3 951.57L429.55 951.4L425.8 951.24L422.05 951.09L418.3 950.93L414.54 950.79L410.79 950.64L407.04 950.5L403.29 950.36L399.54 950.23L395.79 950.11L392.04 949.98L388.29 949.86L384.54 949.75L380.79 949.64L377.04 949.54L373.28 949.44L369.53 949.35L365.78 949.26L362.03 949.18L358.28 949.1L354.53 949.03L350.78 948.96L347.03 948.9L343.28 948.84L339.53 948.79L335.77 948.75L332.02 948.71L328.27 948.68L324.52 948.65L320.77 948.63L317.02 948.61L313.27 948.6L309.52 948.6L305.77 948.6L302.02 948.61L298.27 948.62L294.51 948.64L290.76 948.66L287.01 948.69L283.26 948.73L279.51 948.77L275.76 948.82L272.01 948.87L268.26 948.93L264.51 949L260.76 949.07L257 949.14L253.25 949.22L249.5 949.31L245.75 949.4L242 949.5L238.25 949.6L234.5 949.7L230.75 949.81L227 949.93L223.25 950.05L219.5 950.18L215.74 950.31L211.99 950.44L208.24 950.58L204.49 950.72L200.74 950.87L196.99 951.02L193.24 951.17L189.49 951.33L185.74 951.49L181.99 951.66L178.23 951.82L174.48 952L170.73 952.17L166.98 952.35L163.23 952.53L159.48 952.71L155.73 952.89L151.98 953.08L148.23 953.27L144.48 953.46L140.73 953.66L136.97 953.85L133.22 954.05L129.47 954.25L125.72 954.44L121.97 954.64L118.22 954.85L114.47 955.05L110.72 955.25L106.97 955.45L103.22 955.66L99.46 955.86L95.71 956.07L91.96 956.51L88.21 957.43L84.46 958.34Z" fill="#000" fill-opacity="0.225" stroke="#000" stroke-opacity="0.25" stroke-width="1.2" stroke-linejoin="round" clip-path="url(#cB)"/>
<path d="M84.46 957.41L88.21 956.89L91.96 956.38L95.71 955.86L99.46 955.34L103.22 954.83L106.97 954.31L110.72 953.8L114.47 953.29L118.22 952.78L121.97 952.27L125.72 951.76L129.47 951.26L133.22 950.76L136.97 950.27L140.73 949.78L144.48 949.29L148.23 948.81L151.98 948.34L155.73 947.87L159.48 947.41L163.23 946.95L166.98 946.5L170.73 946.06L174.48 945.62L178.23 945.19L181.99 944.77L185.74 944.36L189.49 943.95L193.24 943.56L196.99 943.17L200.74 942.8L204.49 942.43L208.24 942.07L211.99 941.73L215.74 941.39L219.5 941.06L223.25 940.75L227 940.44L230.75 940.15L234.5 939.87L238.25 939.6L242 939.34L245.75 939.1L249.5 938.87L253.25 938.65L257 938.44L260.76 938.24L264.51 938.06L268.26 937.89L272.01 937.74L275.76 937.59L279.51 937.46L283.26 937.35L287.01 937.25L290.76 937.16L294.51 937.08L298.27 937.02L302.02 936.97L305.77 936.94L309.52 936.92L313.27 936.92L317.02 936.92L320.77 936.94L324.52 936.98L328.27 937.03L332.02 937.09L335.77 937.17L339.53 937.26L343.28 937.37L347.03 937.48L350.78 937.61L354.53 937.76L358.28 937.92L362.03 938.09L365.78 938.27L369.53 938.47L373.28 938.68L377.04 938.9L380.79 939.14L384.54 939.38L388.29 939.64L392.04 939.91L395.79 940.2L399.54 940.49L403.29 940.8L407.04 941.11L410.79 941.44L414.54 941.78L418.3 942.13L422.05 942.49L425.8 942.86L429.55 943.23L433.3 943.62L437.05 944.02L440.8 944.42L444.55 944.84L448.3 945.26L452.05 945.69L455.81 946.12L459.56 946.57L463.31 947.02L467.06 947.48L470.81 947.94L474.56 948.41L478.31 948.89L482.06 949.37L485.81 949.86L489.56 950.35L493.31 950.84L497.07 951.34L500.82 951.84L504.57 952.35L508.32 952.86L512.07 953.37L515.82 953.88L519.57 954.39L523.32 954.91L527.07 955.42L530.82 955.94L534.58 956.46L538.33 956.98L542.08 957.49L545.83 958.01L549.58 958.52L553.33 959.03L557.08 959.54L560.83 960.05L564.58 960.56L568.33 961.06L572.09 961.56L575.84 962.05L579.59 962.54L583.34 963.03L587.09 963.51L590.84 963.99L594.59 964.46L598.34 964.92L602.09 965.38L605.84 965.83L609.59 966.28L613.35 966.71L617.1 967.14L620.85 967.56L624.6 967.98L628.35 968.38L632.1 968.78L635.85 969.17L639.6 969.54L643.35 969.91L647.1 970.27L650.86 970.62L654.61 970.96L658.36 971.29L662.11 971.6L665.86 971.91L669.61 972.2L673.36 972.49L677.11 972.76L680.86 973.02L684.61 973.26L688.36 973.5L692.12 973.72L695.87 973.93L699.62 974.13L703.37 974.31L707.12 974.48L710.87 974.64L714.62 974.79L718.37 974.92L722.12 975.03L725.87 975.14L729.63 975.23L733.38 975.31L737.13 975.37L740.88 975.42L744.63 975.46L748.38 975.48L752.13 975.48L755.88 975.48L759.63 975.46L763.38 975.43L767.13 975.38L770.89 975.32L774.64 975.24L778.39 975.15L782.14 975.05L785.89 974.94L789.64 974.81L793.39 974.66L797.14 974.51L800.89 974.34L804.64 974.16L808.4 973.96L812.15 973.75L815.9 973.53L819.65 973.3L823.4 973.06L827.15 972.8L830.9 972.53L834.65 972.25L838.4 971.96L842.15 971.65L845.9 971.34L849.66 971.01L853.41 970.67L857.16 970.33L860.91 969.97L864.66 969.6L868.41 969.23L872.16 968.84L875.91 968.45L879.66 968.04L883.41 967.63L887.17 967.21L890.92 966.78L894.67 966.34L898.42 965.9L902.17 965.45L905.92 964.99L909.67 964.53L913.42 964.06L917.17 963.59L920.92 963.11L924.67 962.62L928.43 962.13L932.18 961.64L935.93 961.14L939.68 960.64L943.43 960.13L947.18 959.62L950.93 959.11L954.68 958.6L958.43 958.09L962.18 957.57L965.94 957.06L969.69 956.54L973.44 956.02L977.19 955.51L980.94 954.99" fill="none" stroke="#bd1e3c" stroke-width="4.7" clip-path="url(#cB)"/>
<g clip-path="url(#cB)">
<path d="M500.65 956.29V1069.25M904 942.24V1063.92M186.7 879.96V1016.82M749.5 993.36V1087.56M913.75 882.53V1029.84M200.2 780.89V935.28M203.8 957.67V1063.26M284.65 888.95V994.53M389.5 835.09V939.55M472.45 965.91V1101.43M550.75 875.21V972.9M884.2 935.32V1039.78M166.9 939.54V1042.56M329.05 854.79V962.43M571.75 932.81V1034.6M650.2 816.74V927.55M729.7 889.53V995.32M890.5 857.1V953.87M970.45 941.2V1039.1M104.5 913.63V1015.53M187.9 976.74V1083.25M266.5 869.36V969.72" stroke="#000" stroke-width="1.4" fill="none"/>
<path d="M490.9 956.29h19.5M490.9 1069.25h19.5M894.25 942.24h19.5M894.25 1063.92h19.5M176.95 879.96h19.5M176.95 1016.82h19.5M739.75 993.36h19.5M739.75 1087.56h19.5M904 882.53h19.5M904 1029.84h19.5M190.45 780.89h19.5M190.45 935.28h19.5M194.05 957.67h19.5M194.05 1063.26h19.5M274.9 888.95h19.5M274.9 994.53h19.5M379.75 835.09h19.5M379.75 939.55h19.5M462.7 965.91h19.5M462.7 1101.43h19.5M541 875.21h19.5M541 972.9h19.5M874.45 935.32h19.5M874.45 1039.78h19.5M157.15 939.54h19.5M157.15 1042.56h19.5M319.3 854.79h19.5M319.3 962.43h19.5M562 932.81h19.5M562 1034.6h19.5M640.45 816.74h19.5M640.45 927.55h19.5M719.95 889.53h19.5M719.95 995.32h19.5M880.75 857.1h19.5M880.75 953.87h19.5M960.7 941.2h19.5M960.7 1039.1h19.5M94.75 913.63h19.5M94.75 1015.53h19.5M178.15 976.74h19.5M178.15 1083.25h19.5M256.75 869.36h19.5M256.75 969.72h19.5" stroke="#000" stroke-width="1.4" fill="none"/>
<g fill="#000"><circle cx="500.65" cy="1012.77" r="7.9"/><circle cx="904" cy="1003.08" r="7.9"/><circle cx="186.7" cy="948.39" r="7.9"/><circle cx="749.5" cy="1040.46" r="7.9"/><circle cx="913.75" cy="956.19" r="7.9"/><circle cx="200.2" cy="858.09" r="7.9"/><circle cx="203.8" cy="1010.47" r="7.9"/><circle cx="284.65" cy="941.74" r="7.9"/><circle cx="389.5" cy="887.32" r="7.9"/><circle cx="472.45" cy="1033.67" r="7.9"/><circle cx="550.75" cy="924.05" r="7.9"/><circle cx="884.2" cy="987.55" r="7.9"/><circle cx="166.9" cy="991.05" r="7.9"/><circle cx="329.05" cy="908.61" r="7.9"/><circle cx="571.75" cy="983.71" r="7.9"/><circle cx="650.2" cy="872.15" r="7.9"/><circle cx="729.7" cy="942.43" r="7.9"/><circle cx="890.5" cy="905.49" r="7.9"/><circle cx="970.45" cy="990.15" r="7.9"/><circle cx="104.5" cy="964.58" r="7.9"/><circle cx="187.9" cy="1029.99" r="7.9"/><circle cx="266.5" cy="919.54" r="7.9"/></g>
</g>
<g clip-path="url(#cBR)">
<path d="M500.65 1208.44V1254.01M904 1198.22V1247.06M186.7 1180.93V1236.26M749.5 1214.62V1250.69M913.75 1173.95V1233.11M200.2 1142.92V1204.07M203.8 1213.14V1254.62M284.65 1187.06V1229.82M389.5 1165.32V1206.8M472.45 1214.42V1268.06M550.75 1174.08V1212.96M884.2 1194.19V1235.87M166.9 1204.76V1245.22M329.05 1174.49V1217.25M571.75 1195.87V1236.33M650.2 1145.45V1188.97M729.7 1172.12V1215.03M890.5 1162.54V1201.62M970.45 1200.62V1239.55M104.5 1190.92V1231.28M187.9 1220.29V1262.59M266.5 1179.47V1219.83" stroke="#000" stroke-width="1.4" fill="none"/>
<path d="M490.9 1208.44h19.5M490.9 1254.01h19.5M894.25 1198.22h19.5M894.25 1247.06h19.5M176.95 1180.93h19.5M176.95 1236.26h19.5M739.75 1214.62h19.5M739.75 1250.69h19.5M904 1173.95h19.5M904 1233.11h19.5M190.45 1142.92h19.5M190.45 1204.07h19.5M194.05 1213.14h19.5M194.05 1254.62h19.5M274.9 1187.06h19.5M274.9 1229.82h19.5M379.75 1165.32h19.5M379.75 1206.8h19.5M462.7 1214.42h19.5M462.7 1268.06h19.5M541 1174.08h19.5M541 1212.96h19.5M874.45 1194.19h19.5M874.45 1235.87h19.5M157.15 1204.76h19.5M157.15 1245.22h19.5M319.3 1174.49h19.5M319.3 1217.25h19.5M562 1195.87h19.5M562 1236.33h19.5M640.45 1145.45h19.5M640.45 1188.97h19.5M719.95 1172.12h19.5M719.95 1215.03h19.5M880.75 1162.54h19.5M880.75 1201.62h19.5M960.7 1200.62h19.5M960.7 1239.55h19.5M94.75 1190.92h19.5M94.75 1231.28h19.5M178.15 1220.29h19.5M178.15 1262.59h19.5M256.75 1179.47h19.5M256.75 1219.83h19.5" stroke="#000" stroke-width="1.4" fill="none"/>
<g fill="#000"><circle cx="500.65" cy="1231.22" r="7.9"/><circle cx="904" cy="1222.64" r="7.9"/><circle cx="186.7" cy="1208.59" r="7.9"/><circle cx="749.5" cy="1232.65" r="7.9"/><circle cx="913.75" cy="1203.53" r="7.9"/><circle cx="200.2" cy="1173.49" r="7.9"/><circle cx="203.8" cy="1233.88" r="7.9"/><circle cx="284.65" cy="1208.44" r="7.9"/><circle cx="389.5" cy="1186.06" r="7.9"/><circle cx="472.45" cy="1241.24" r="7.9"/><circle cx="550.75" cy="1193.52" r="7.9"/><circle cx="884.2" cy="1215.03" r="7.9"/><circle cx="166.9" cy="1224.99" r="7.9"/><circle cx="329.05" cy="1195.87" r="7.9"/><circle cx="571.75" cy="1216.1" r="7.9"/><circle cx="650.2" cy="1167.21" r="7.9"/><circle cx="729.7" cy="1193.57" r="7.9"/><circle cx="890.5" cy="1182.08" r="7.9"/><circle cx="970.45" cy="1220.09" r="7.9"/><circle cx="104.5" cy="1211.1" r="7.9"/><circle cx="187.9" cy="1241.44" r="7.9"/><circle cx="266.5" cy="1199.65" r="7.9"/></g>
</g>
<path d="M1104.82 956.21L1108.57 956.21L1112.31 956.2L1116.06 955.78L1119.81 955.15L1123.56 954.51L1127.3 953.87L1131.05 953.24L1134.8 952.61L1138.54 951.97L1142.29 951.34L1146.04 950.72L1149.79 950.09L1153.53 949.47L1157.28 948.86L1161.03 948.24L1164.77 947.64L1168.52 947.04L1172.27 946.44L1176.02 945.85L1179.76 945.27L1183.51 944.7L1187.26 944.13L1191 943.58L1194.75 943.03L1198.5 942.49L1202.24 941.96L1205.99 941.44L1209.74 940.93L1213.49 940.44L1217.23 939.95L1220.98 939.48L1224.73 939.02L1228.47 938.57L1232.22 938.14L1235.97 937.72L1239.72 937.31L1243.46 936.92L1247.21 936.54L1250.96 936.18L1254.7 935.83L1258.45 935.5L1262.2 935.18L1265.95 934.88L1269.69 934.6L1273.44 934.34L1277.19 934.09L1280.93 933.86L1284.68 933.65L1288.43 933.45L1292.18 933.27L1295.92 933.11L1299.67 932.97L1303.42 932.85L1307.16 932.75L1310.91 932.66L1314.66 932.59L1318.41 932.55L1322.15 932.52L1325.9 932.51L1329.65 932.52L1333.39 932.54L1337.14 932.59L1340.89 932.66L1344.64 932.74L1348.38 932.84L1352.13 932.96L1355.88 933.1L1359.62 933.26L1363.37 933.44L1367.12 933.63L1370.87 933.85L1374.61 934.08L1378.36 934.32L1382.11 934.59L1385.85 934.87L1389.6 935.17L1393.35 935.49L1397.09 935.82L1400.84 936.16L1404.59 936.53L1408.34 936.91L1412.08 937.3L1415.83 937.71L1419.58 938.13L1423.32 938.56L1427.07 939.01L1430.82 939.47L1434.57 939.95L1438.31 940.44L1442.06 940.93L1445.81 941.44L1449.55 941.97L1453.3 942.5L1457.05 943.04L1460.8 943.59L1464.54 944.15L1468.29 944.72L1472.04 945.29L1475.78 945.88L1479.53 946.47L1483.28 947.07L1487.03 947.67L1490.77 948.28L1494.52 948.9L1498.27 949.52L1502.01 950.14L1505.76 950.77L1509.51 951.4L1513.26 952.03L1517 952.67L1520.75 953.3L1524.5 953.94L1528.24 954.58L1531.99 955.22L1535.74 955.86L1539.49 956.2L1543.23 956.21L1546.98 956.21L1550.73 956.22L1554.47 956.22L1558.22 956.22L1561.97 956.23L1565.71 956.23L1569.46 956.24L1573.21 956.24L1576.96 956.25L1580.7 956.25L1584.45 956.25L1588.2 956.26L1591.94 956.26L1595.69 956.27L1599.44 956.27L1603.19 956.27L1606.93 956.28L1610.68 956.28L1614.43 956.29L1618.17 956.29L1621.92 956.29L1625.67 956.3L1629.42 956.3L1633.16 956.3L1636.91 956.31L1640.66 956.31L1644.4 956.31L1648.15 956.32L1651.9 956.32L1655.65 956.32L1659.39 956.32L1663.14 956.33L1666.89 956.33L1670.63 956.33L1674.38 956.34L1678.13 956.34L1681.88 956.34L1685.62 956.34L1689.37 956.34L1693.12 956.35L1696.86 956.35L1700.61 956.35L1704.36 956.35L1708.11 956.35L1711.85 956.35L1715.6 956.36L1719.35 956.36L1723.09 956.36L1726.84 956.36L1730.59 956.36L1734.33 956.36L1738.08 956.36L1741.83 956.36L1745.58 956.36L1749.32 956.36L1753.07 956.36L1756.82 956.37L1760.56 956.37L1764.31 956.37L1768.06 956.37L1771.81 956.37L1775.55 956.36L1779.3 956.36L1783.05 956.36L1786.79 956.36L1790.54 956.36L1794.29 956.36L1798.04 956.36L1801.78 956.36L1805.53 956.36L1809.28 956.36L1813.02 956.36L1816.77 956.35L1820.52 956.35L1824.27 956.35L1828.01 956.35L1831.76 956.35L1835.51 956.35L1839.25 956.34L1843 956.34L1846.75 956.34L1850.5 956.34L1854.24 956.34L1857.99 956.33L1861.74 956.33L1865.48 956.33L1869.23 956.32L1872.98 956.32L1876.73 956.32L1880.47 956.32L1884.22 956.31L1887.97 956.31L1891.71 956.31L1895.46 956.3L1899.21 956.3L1902.96 956.3L1906.7 956.29L1910.45 956.29L1914.2 956.29L1917.94 956.28L1921.69 956.28L1925.44 956.27L1929.18 956.27L1932.93 956.27L1936.68 956.26L1940.43 956.26L1944.17 956.25L1947.92 956.25L1951.67 956.25L1955.41 956.24L1959.16 956.24L1962.91 956.23L1966.66 956.23L1970.4 956.22L1974.15 956.22L1977.9 956.22L1981.64 956.21L1985.39 956.21L1989.14 956.2L1992.89 955.98L1996.63 955.35L2000.38 954.71L2000.38 956.19L1996.63 956.19L1992.89 956.2L1989.14 956.62L1985.39 957.25L1981.64 957.88L1977.9 958.51L1974.15 959.14L1970.4 959.77L1966.66 960.39L1962.91 961L1959.16 961.62L1955.41 962.23L1951.67 962.83L1947.92 963.43L1944.17 964.02L1940.43 964.61L1936.68 965.18L1932.93 965.76L1929.18 966.32L1925.44 966.88L1921.69 967.43L1917.94 967.97L1914.2 968.5L1910.45 969.02L1906.7 969.54L1902.96 970.04L1899.21 970.54L1895.46 971.02L1891.71 971.49L1887.97 971.96L1884.22 972.41L1880.47 972.85L1876.73 973.28L1872.98 973.7L1869.23 974.1L1865.48 974.49L1861.74 974.87L1857.99 975.24L1854.24 975.6L1850.5 975.94L1846.75 976.27L1843 976.58L1839.25 976.89L1835.51 977.17L1831.76 977.45L1828.01 977.71L1824.27 977.96L1820.52 978.19L1816.77 978.4L1813.02 978.61L1809.28 978.8L1805.53 978.97L1801.78 979.13L1798.04 979.27L1794.29 979.4L1790.54 979.52L1786.79 979.62L1783.05 979.7L1779.3 979.77L1775.55 979.82L1771.81 979.86L1768.06 979.88L1764.31 979.89L1760.56 979.89L1756.82 979.86L1753.07 979.83L1749.32 979.77L1745.58 979.7L1741.83 979.62L1738.08 979.52L1734.33 979.41L1730.59 979.28L1726.84 979.14L1723.09 978.98L1719.35 978.8L1715.6 978.62L1711.85 978.41L1708.11 978.19L1704.36 977.96L1700.61 977.72L1696.86 977.46L1693.12 977.18L1689.37 976.89L1685.62 976.59L1681.88 976.27L1678.13 975.94L1674.38 975.6L1670.63 975.24L1666.89 974.87L1663.14 974.49L1659.39 974.1L1655.65 973.69L1651.9 973.27L1648.15 972.84L1644.4 972.4L1640.66 971.94L1636.91 971.48L1633.16 971L1629.42 970.51L1625.67 970.02L1621.92 969.51L1618.17 968.99L1614.43 968.47L1610.68 967.93L1606.93 967.38L1603.19 966.83L1599.44 966.27L1595.69 965.7L1591.94 965.13L1588.2 964.54L1584.45 963.95L1580.7 963.36L1576.96 962.75L1573.21 962.15L1569.46 961.53L1565.71 960.92L1561.97 960.3L1558.22 959.67L1554.47 959.04L1550.73 958.41L1546.98 957.78L1543.23 957.14L1539.49 956.5L1535.74 956.2L1531.99 956.19L1528.24 956.19L1524.5 956.18L1520.75 956.18L1517 956.18L1513.26 956.17L1509.51 956.17L1505.76 956.16L1502.01 956.16L1498.27 956.15L1494.52 956.15L1490.77 956.14L1487.03 956.14L1483.28 956.14L1479.53 956.13L1475.78 956.13L1472.04 956.12L1468.29 956.12L1464.54 956.12L1460.8 956.11L1457.05 956.11L1453.3 956.1L1449.55 956.1L1445.81 956.1L1442.06 956.09L1438.31 956.09L1434.57 956.09L1430.82 956.08L1427.07 956.08L1423.32 956.08L1419.58 956.07L1415.83 956.07L1412.08 956.07L1408.34 956.07L1404.59 956.06L1400.84 956.06L1397.09 956.06L1393.35 956.06L1389.6 956.05L1385.85 956.05L1382.11 956.05L1378.36 956.05L1374.61 956.05L1370.87 956.04L1367.12 956.04L1363.37 956.04L1359.62 956.04L1355.88 956.04L1352.13 956.04L1348.38 956.04L1344.64 956.04L1340.89 956.04L1337.14 956.04L1333.39 956.03L1329.65 956.03L1325.9 956.03L1322.15 956.03L1318.41 956.03L1314.66 956.04L1310.91 956.04L1307.16 956.04L1303.42 956.04L1299.67 956.04L1295.92 956.04L1292.18 956.04L1288.43 956.04L1284.68 956.04L1280.93 956.04L1277.19 956.05L1273.44 956.05L1269.69 956.05L1265.95 956.05L1262.2 956.05L1258.45 956.06L1254.7 956.06L1250.96 956.06L1247.21 956.06L1243.46 956.07L1239.72 956.07L1235.97 956.07L1232.22 956.07L1228.47 956.08L1224.73 956.08L1220.98 956.08L1217.23 956.09L1213.49 956.09L1209.74 956.09L1205.99 956.1L1202.24 956.1L1198.5 956.1L1194.75 956.11L1191 956.11L1187.26 956.12L1183.51 956.12L1179.76 956.12L1176.02 956.13L1172.27 956.13L1168.52 956.14L1164.77 956.14L1161.03 956.14L1157.28 956.15L1153.53 956.15L1149.79 956.16L1146.04 956.16L1142.29 956.17L1138.54 956.17L1134.8 956.17L1131.05 956.18L1127.3 956.18L1123.56 956.19L1119.81 956.19L1116.06 956.2L1112.31 956.42L1108.57 957.05L1104.82 957.69Z" fill="#000" fill-opacity="0.09" stroke="#000" stroke-opacity="0.13" stroke-width="1.2" stroke-linejoin="round" clip-path="url(#cC)"/>
<path d="M1104.82 956.3L1108.57 956.26L1112.31 956.22L1116.06 956.01L1119.81 955.71L1123.56 955.41L1127.3 955.12L1131.05 954.82L1134.8 954.53L1138.54 954.23L1142.29 953.94L1146.04 953.65L1149.79 953.36L1153.53 953.07L1157.28 952.78L1161.03 952.5L1164.77 952.22L1168.52 951.94L1172.27 951.66L1176.02 951.39L1179.76 951.12L1183.51 950.85L1187.26 950.59L1191 950.33L1194.75 950.07L1198.5 949.82L1202.24 949.58L1205.99 949.34L1209.74 949.1L1213.49 948.87L1217.23 948.64L1220.98 948.42L1224.73 948.21L1228.47 948L1232.22 947.8L1235.97 947.6L1239.72 947.41L1243.46 947.23L1247.21 947.06L1250.96 946.89L1254.7 946.73L1258.45 946.57L1262.2 946.42L1265.95 946.29L1269.69 946.15L1273.44 946.03L1277.19 945.92L1280.93 945.81L1284.68 945.71L1288.43 945.62L1292.18 945.54L1295.92 945.46L1299.67 945.4L1303.42 945.34L1307.16 945.29L1310.91 945.25L1314.66 945.22L1318.41 945.2L1322.15 945.18L1325.9 945.18L1329.65 945.18L1333.39 945.2L1337.14 945.22L1340.89 945.25L1344.64 945.29L1348.38 945.34L1352.13 945.39L1355.88 945.46L1359.62 945.53L1363.37 945.61L1367.12 945.7L1370.87 945.8L1374.61 945.91L1378.36 946.03L1382.11 946.15L1385.85 946.28L1389.6 946.42L1393.35 946.57L1397.09 946.72L1400.84 946.88L1404.59 947.05L1408.34 947.23L1412.08 947.41L1415.83 947.6L1419.58 947.79L1423.32 948L1427.07 948.21L1430.82 948.42L1434.57 948.64L1438.31 948.87L1442.06 949.1L1445.81 949.34L1449.55 949.58L1453.3 949.83L1457.05 950.08L1460.8 950.33L1464.54 950.59L1468.29 950.86L1472.04 951.13L1475.78 951.4L1479.53 951.67L1483.28 951.95L1487.03 952.23L1490.77 952.52L1494.52 952.8L1498.27 953.09L1502.01 953.38L1505.76 953.67L1509.51 953.97L1513.26 954.26L1517 954.56L1520.75 954.85L1524.5 955.15L1528.24 955.45L1531.99 955.75L1535.74 956.04L1539.49 956.22L1543.23 956.27L1546.98 956.31L1550.73 956.35L1554.47 956.4L1558.22 956.44L1561.97 956.49L1565.71 956.53L1569.46 956.57L1573.21 956.61L1576.96 956.66L1580.7 956.7L1584.45 956.74L1588.2 956.78L1591.94 956.82L1595.69 956.86L1599.44 956.9L1603.19 956.94L1606.93 956.98L1610.68 957.02L1614.43 957.06L1618.17 957.09L1621.92 957.13L1625.67 957.16L1629.42 957.2L1633.16 957.23L1636.91 957.27L1640.66 957.3L1644.4 957.33L1648.15 957.36L1651.9 957.39L1655.65 957.42L1659.39 957.45L1663.14 957.48L1666.89 957.5L1670.63 957.53L1674.38 957.55L1678.13 957.58L1681.88 957.6L1685.62 957.62L1689.37 957.64L1693.12 957.66L1696.86 957.68L1700.61 957.7L1704.36 957.72L1708.11 957.73L1711.85 957.75L1715.6 957.76L1719.35 957.78L1723.09 957.79L1726.84 957.8L1730.59 957.81L1734.33 957.82L1738.08 957.83L1741.83 957.83L1745.58 957.84L1749.32 957.84L1753.07 957.85L1756.82 957.85L1760.56 957.85L1764.31 957.85L1768.06 957.85L1771.81 957.85L1775.55 957.85L1779.3 957.84L1783.05 957.84L1786.79 957.83L1790.54 957.83L1794.29 957.82L1798.04 957.81L1801.78 957.8L1805.53 957.79L1809.28 957.78L1813.02 957.76L1816.77 957.75L1820.52 957.73L1824.27 957.72L1828.01 957.7L1831.76 957.68L1835.51 957.66L1839.25 957.64L1843 957.62L1846.75 957.6L1850.5 957.58L1854.24 957.55L1857.99 957.53L1861.74 957.5L1865.48 957.48L1869.23 957.45L1872.98 957.42L1876.73 957.39L1880.47 957.36L1884.22 957.33L1887.97 957.3L1891.71 957.27L1895.46 957.23L1899.21 957.2L1902.96 957.17L1906.7 957.13L1910.45 957.09L1914.2 957.06L1917.94 957.02L1921.69 956.98L1925.44 956.95L1929.18 956.91L1932.93 956.87L1936.68 956.83L1940.43 956.79L1944.17 956.75L1947.92 956.7L1951.67 956.66L1955.41 956.62L1959.16 956.58L1962.91 956.54L1966.66 956.49L1970.4 956.45L1974.15 956.41L1977.9 956.36L1981.64 956.32L1985.39 956.27L1989.14 956.23L1992.89 956.1L1996.63 955.8L2000.38 955.51L2000.38 956.1L1996.63 956.14L1992.89 956.18L1989.14 956.39L1985.39 956.69L1981.64 956.98L1977.9 957.28L1974.15 957.57L1970.4 957.86L1966.66 958.15L1962.91 958.43L1959.16 958.72L1955.41 959L1951.67 959.28L1947.92 959.56L1944.17 959.84L1940.43 960.11L1936.68 960.38L1932.93 960.65L1929.18 960.91L1925.44 961.17L1921.69 961.42L1917.94 961.67L1914.2 961.92L1910.45 962.17L1906.7 962.4L1902.96 962.64L1899.21 962.87L1895.46 963.09L1891.71 963.31L1887.97 963.53L1884.22 963.74L1880.47 963.94L1876.73 964.14L1872.98 964.34L1869.23 964.53L1865.48 964.71L1861.74 964.89L1857.99 965.06L1854.24 965.22L1850.5 965.38L1846.75 965.53L1843 965.68L1839.25 965.82L1835.51 965.96L1831.76 966.08L1828.01 966.2L1824.27 966.32L1820.52 966.43L1816.77 966.53L1813.02 966.62L1809.28 966.71L1805.53 966.79L1801.78 966.86L1798.04 966.93L1794.29 966.99L1790.54 967.05L1786.79 967.09L1783.05 967.13L1779.3 967.16L1775.55 967.19L1771.81 967.21L1768.06 967.22L1764.31 967.22L1760.56 967.22L1756.82 967.21L1753.07 967.19L1749.32 967.16L1745.58 967.13L1741.83 967.09L1738.08 967.05L1734.33 966.99L1730.59 966.93L1726.84 966.87L1723.09 966.79L1719.35 966.71L1715.6 966.63L1711.85 966.53L1708.11 966.43L1704.36 966.32L1700.61 966.21L1696.86 966.09L1693.12 965.96L1689.37 965.82L1685.62 965.68L1681.88 965.54L1678.13 965.38L1674.38 965.22L1670.63 965.06L1666.89 964.89L1663.14 964.71L1659.39 964.52L1655.65 964.33L1651.9 964.14L1648.15 963.94L1644.4 963.73L1640.66 963.52L1636.91 963.31L1633.16 963.08L1629.42 962.86L1625.67 962.63L1621.92 962.39L1618.17 962.15L1614.43 961.9L1610.68 961.66L1606.93 961.4L1603.19 961.15L1599.44 960.88L1595.69 960.62L1591.94 960.35L1588.2 960.08L1584.45 959.81L1580.7 959.53L1576.96 959.25L1573.21 958.97L1569.46 958.68L1565.71 958.39L1561.97 958.1L1558.22 957.81L1554.47 957.52L1550.73 957.23L1546.98 956.93L1543.23 956.64L1539.49 956.34L1535.74 956.18L1531.99 956.13L1528.24 956.09L1524.5 956.04L1520.75 956L1517 955.95L1513.26 955.91L1509.51 955.86L1505.76 955.82L1502.01 955.78L1498.27 955.73L1494.52 955.69L1490.77 955.65L1487.03 955.6L1483.28 955.56L1479.53 955.52L1475.78 955.48L1472.04 955.44L1468.29 955.4L1464.54 955.36L1460.8 955.32L1457.05 955.28L1453.3 955.24L1449.55 955.21L1445.81 955.17L1442.06 955.13L1438.31 955.1L1434.57 955.07L1430.82 955.03L1427.07 955L1423.32 954.97L1419.58 954.94L1415.83 954.91L1412.08 954.88L1408.34 954.85L1404.59 954.83L1400.84 954.8L1397.09 954.78L1393.35 954.75L1389.6 954.73L1385.85 954.71L1382.11 954.69L1378.36 954.67L1374.61 954.66L1370.87 954.64L1367.12 954.63L1363.37 954.61L1359.62 954.6L1355.88 954.59L1352.13 954.58L1348.38 954.57L1344.64 954.56L1340.89 954.56L1337.14 954.55L1333.39 954.55L1329.65 954.55L1325.9 954.55L1322.15 954.55L1318.41 954.55L1314.66 954.55L1310.91 954.56L1307.16 954.56L1303.42 954.57L1299.67 954.58L1295.92 954.59L1292.18 954.6L1288.43 954.61L1284.68 954.63L1280.93 954.64L1277.19 954.66L1273.44 954.67L1269.69 954.69L1265.95 954.71L1262.2 954.73L1258.45 954.76L1254.7 954.78L1250.96 954.8L1247.21 954.83L1243.46 954.85L1239.72 954.88L1235.97 954.91L1232.22 954.94L1228.47 954.97L1224.73 955L1220.98 955.03L1217.23 955.07L1213.49 955.1L1209.74 955.13L1205.99 955.17L1202.24 955.21L1198.5 955.24L1194.75 955.28L1191 955.32L1187.26 955.36L1183.51 955.4L1179.76 955.44L1176.02 955.48L1172.27 955.52L1168.52 955.56L1164.77 955.6L1161.03 955.64L1157.28 955.69L1153.53 955.73L1149.79 955.77L1146.04 955.82L1142.29 955.86L1138.54 955.91L1134.8 955.95L1131.05 955.99L1127.3 956.04L1123.56 956.08L1119.81 956.13L1116.06 956.17L1112.31 956.3L1108.57 956.6L1104.82 956.89Z" fill="#000" fill-opacity="0.225" stroke="#000" stroke-opacity="0.25" stroke-width="1.2" stroke-linejoin="round" clip-path="url(#cC)"/>
<path d="M1104.82 956.51L1108.57 956.38L1112.31 956.25L1116.06 956.11L1119.81 955.98L1123.56 955.85L1127.3 955.71L1131.05 955.58L1134.8 955.45L1138.54 955.32L1142.29 955.19L1146.04 955.06L1149.79 954.93L1153.53 954.8L1157.28 954.68L1161.03 954.55L1164.77 954.42L1168.52 954.3L1172.27 954.18L1176.02 954.06L1179.76 953.94L1183.51 953.82L1187.26 953.71L1191 953.59L1194.75 953.48L1198.5 953.37L1202.24 953.26L1205.99 953.15L1209.74 953.05L1213.49 952.95L1217.23 952.85L1220.98 952.75L1224.73 952.66L1228.47 952.57L1232.22 952.48L1235.97 952.39L1239.72 952.31L1243.46 952.23L1247.21 952.15L1250.96 952.07L1254.7 952L1258.45 951.93L1262.2 951.87L1265.95 951.8L1269.69 951.74L1273.44 951.69L1277.19 951.63L1280.93 951.58L1284.68 951.54L1288.43 951.49L1292.18 951.45L1295.92 951.42L1299.67 951.38L1303.42 951.35L1307.16 951.33L1310.91 951.3L1314.66 951.28L1318.41 951.27L1322.15 951.26L1325.9 951.25L1329.65 951.24L1333.39 951.24L1337.14 951.24L1340.89 951.25L1344.64 951.26L1348.38 951.27L1352.13 951.29L1355.88 951.31L1359.62 951.33L1363.37 951.36L1367.12 951.39L1370.87 951.42L1374.61 951.46L1378.36 951.5L1382.11 951.54L1385.85 951.59L1389.6 951.64L1393.35 951.69L1397.09 951.75L1400.84 951.81L1404.59 951.88L1408.34 951.94L1412.08 952.01L1415.83 952.08L1419.58 952.16L1423.32 952.24L1427.07 952.32L1430.82 952.4L1434.57 952.49L1438.31 952.58L1442.06 952.67L1445.81 952.77L1449.55 952.87L1453.3 952.97L1457.05 953.07L1460.8 953.17L1464.54 953.28L1468.29 953.39L1472.04 953.5L1475.78 953.61L1479.53 953.72L1483.28 953.84L1487.03 953.96L1490.77 954.08L1494.52 954.2L1498.27 954.32L1502.01 954.44L1505.76 954.57L1509.51 954.69L1513.26 954.82L1517 954.95L1520.75 955.08L1524.5 955.21L1528.24 955.34L1531.99 955.47L1535.74 955.6L1539.49 955.74L1543.23 955.87L1546.98 956L1550.73 956.13L1554.47 956.27L1558.22 956.4L1561.97 956.53L1565.71 956.66L1569.46 956.8L1573.21 956.93L1576.96 957.06L1580.7 957.19L1584.45 957.32L1588.2 957.45L1591.94 957.58L1595.69 957.71L1599.44 957.83L1603.19 957.96L1606.93 958.08L1610.68 958.2L1614.43 958.32L1618.17 958.44L1621.92 958.56L1625.67 958.68L1629.42 958.79L1633.16 958.9L1636.91 959.01L1640.66 959.12L1644.4 959.23L1648.15 959.33L1651.9 959.43L1655.65 959.53L1659.39 959.63L1663.14 959.73L1666.89 959.82L1670.63 959.91L1674.38 960L1678.13 960.08L1681.88 960.16L1685.62 960.24L1689.37 960.32L1693.12 960.39L1696.86 960.46L1700.61 960.52L1704.36 960.59L1708.11 960.65L1711.85 960.71L1715.6 960.76L1719.35 960.81L1723.09 960.86L1726.84 960.9L1730.59 960.94L1734.33 960.98L1738.08 961.01L1741.83 961.04L1745.58 961.07L1749.32 961.09L1753.07 961.11L1756.82 961.13L1760.56 961.14L1764.31 961.15L1768.06 961.16L1771.81 961.16L1775.55 961.16L1779.3 961.15L1783.05 961.14L1786.79 961.13L1790.54 961.12L1794.29 961.1L1798.04 961.07L1801.78 961.05L1805.53 961.02L1809.28 960.98L1813.02 960.95L1816.77 960.91L1820.52 960.86L1824.27 960.82L1828.01 960.77L1831.76 960.71L1835.51 960.66L1839.25 960.6L1843 960.53L1846.75 960.47L1850.5 960.4L1854.24 960.33L1857.99 960.25L1861.74 960.17L1865.48 960.09L1869.23 960.01L1872.98 959.92L1876.73 959.83L1880.47 959.74L1884.22 959.65L1887.97 959.55L1891.71 959.45L1895.46 959.35L1899.21 959.25L1902.96 959.14L1906.7 959.03L1910.45 958.92L1914.2 958.81L1917.94 958.69L1921.69 958.58L1925.44 958.46L1929.18 958.34L1932.93 958.22L1936.68 958.1L1940.43 957.98L1944.17 957.85L1947.92 957.72L1951.67 957.6L1955.41 957.47L1959.16 957.34L1962.91 957.21L1966.66 957.08L1970.4 956.95L1974.15 956.82L1977.9 956.69L1981.64 956.55L1985.39 956.42L1989.14 956.29L1992.89 956.15L1996.63 956.02L2000.38 955.89" fill="none" stroke="#bd1e3c" stroke-width="4.7" clip-path="url(#cC)"/>
<g clip-path="url(#cC)">
<path d="M1312.48 955.76V1068.73M1545.97 932.97V1054.66M1639.51 894.8V1031.65M1965.3 975V1069.21M1182.38 872.37V1019.68M1786.87 799.18V953.56M1419.73 967.34V1072.93M1466.53 904.97V1010.56M1806.31 856.37V960.83M1854.33 978.09V1113.61M1899.65 875.76V973.45M1354.22 919.08V1023.54M1447.77 945.85V1048.87M1541.63 873.56V981.2M1682.12 931.46V1033.25M1727.53 807.09V917.9M1773.55 875.46V981.25M1866.64 850.34V947.11M1912.92 943.61V1041.51M1181.96 912.85V1014.75M1230.24 985.14V1091.65M1275.74 883.04V983.4" stroke="#000" stroke-width="1.4" fill="none"/>
<path d="M1302.73 955.76h19.5M1302.73 1068.73h19.5M1536.22 932.97h19.5M1536.22 1054.66h19.5M1629.76 894.8h19.5M1629.76 1031.65h19.5M1955.55 975h19.5M1955.55 1069.21h19.5M1172.63 872.37h19.5M1172.63 1019.68h19.5M1777.12 799.18h19.5M1777.12 953.56h19.5M1409.98 967.34h19.5M1409.98 1072.93h19.5M1456.78 904.97h19.5M1456.78 1010.56h19.5M1796.56 856.37h19.5M1796.56 960.83h19.5M1844.58 978.09h19.5M1844.58 1113.61h19.5M1889.9 875.76h19.5M1889.9 973.45h19.5M1344.47 919.08h19.5M1344.47 1023.54h19.5M1438.02 945.85h19.5M1438.02 1048.87h19.5M1531.88 873.56h19.5M1531.88 981.2h19.5M1672.37 931.46h19.5M1672.37 1033.25h19.5M1717.78 807.09h19.5M1717.78 917.9h19.5M1763.8 875.46h19.5M1763.8 981.25h19.5M1856.89 850.34h19.5M1856.89 947.11h19.5M1903.17 943.61h19.5M1903.17 1041.51h19.5M1172.21 912.85h19.5M1172.21 1014.75h19.5M1220.49 985.14h19.5M1220.49 1091.65h19.5M1265.99 883.04h19.5M1265.99 983.4h19.5" stroke="#000" stroke-width="1.4" fill="none"/>
<g fill="#000"><circle cx="1312.48" cy="1012.25" r="7.9"/><circle cx="1545.97" cy="993.81" r="7.9"/><circle cx="1639.51" cy="963.23" r="7.9"/><circle cx="1965.3" cy="1022.11" r="7.9"/><circle cx="1182.38" cy="946.02" r="7.9"/><circle cx="1786.87" cy="876.37" r="7.9"/><circle cx="1419.73" cy="1020.13" r="7.9"/><circle cx="1466.53" cy="957.77" r="7.9"/><circle cx="1806.31" cy="908.6" r="7.9"/><circle cx="1854.33" cy="1045.85" r="7.9"/><circle cx="1899.65" cy="924.61" r="7.9"/><circle cx="1354.22" cy="971.31" r="7.9"/><circle cx="1447.77" cy="997.36" r="7.9"/><circle cx="1541.63" cy="927.38" r="7.9"/><circle cx="1682.12" cy="982.36" r="7.9"/><circle cx="1727.53" cy="862.5" r="7.9"/><circle cx="1773.55" cy="928.35" r="7.9"/><circle cx="1866.64" cy="898.72" r="7.9"/><circle cx="1912.92" cy="992.56" r="7.9"/><circle cx="1181.96" cy="963.8" r="7.9"/><circle cx="1230.24" cy="1038.39" r="7.9"/><circle cx="1275.74" cy="933.22" r="7.9"/></g>
</g>
<g clip-path="url(#cCR)">
<path d="M1312.48 1208.44V1254.01M1545.97 1198.22V1247.06M1639.51 1180.93V1236.26M1965.3 1214.62V1250.69M1182.38 1173.95V1233.11M1786.87 1142.92V1204.07M1419.73 1213.14V1254.62M1466.53 1187.06V1229.82M1806.31 1165.32V1206.8M1854.33 1214.42V1268.06M1899.65 1174.08V1212.96M1354.22 1194.19V1235.87M1447.77 1204.76V1245.22M1541.63 1174.49V1217.25M1682.12 1195.87V1236.33M1727.53 1145.45V1188.97M1773.55 1172.12V1215.03M1866.64 1162.54V1201.62M1912.92 1200.62V1239.55M1181.96 1190.92V1231.28M1230.24 1220.29V1262.59M1275.74 1179.47V1219.83" stroke="#000" stroke-width="1.4" fill="none"/>
<path d="M1302.73 1208.44h19.5M1302.73 1254.01h19.5M1536.22 1198.22h19.5M1536.22 1247.06h19.5M1629.76 1180.93h19.5M1629.76 1236.26h19.5M1955.55 1214.62h19.5M1955.55 1250.69h19.5M1172.63 1173.95h19.5M1172.63 1233.11h19.5M1777.12 1142.92h19.5M1777.12 1204.07h19.5M1409.98 1213.14h19.5M1409.98 1254.62h19.5M1456.78 1187.06h19.5M1456.78 1229.82h19.5M1796.56 1165.32h19.5M1796.56 1206.8h19.5M1844.58 1214.42h19.5M1844.58 1268.06h19.5M1889.9 1174.08h19.5M1889.9 1212.96h19.5M1344.47 1194.19h19.5M1344.47 1235.87h19.5M1438.02 1204.76h19.5M1438.02 1245.22h19.5M1531.88 1174.49h19.5M1531.88 1217.25h19.5M1672.37 1195.87h19.5M1672.37 1236.33h19.5M1717.78 1145.45h19.5M1717.78 1188.97h19.5M1763.8 1172.12h19.5M1763.8 1215.03h19.5M1856.89 1162.54h19.5M1856.89 1201.62h19.5M1903.17 1200.62h19.5M1903.17 1239.55h19.5M1172.21 1190.92h19.5M1172.21 1231.28h19.5M1220.49 1220.29h19.5M1220.49 1262.59h19.5M1265.99 1179.47h19.5M1265.99 1219.83h19.5" stroke="#000" stroke-width="1.4" fill="none"/>
<g fill="#000"><circle cx="1312.48" cy="1231.22" r="7.9"/><circle cx="1545.97" cy="1222.64" r="7.9"/><circle cx="1639.51" cy="1208.59" r="7.9"/><circle cx="1965.3" cy="1232.65" r="7.9"/><circle cx="1182.38" cy="1203.53" r="7.9"/><circle cx="1786.87" cy="1173.49" r="7.9"/><circle cx="1419.73" cy="1233.88" r="7.9"/><circle cx="1466.53" cy="1208.44" r="7.9"/><circle cx="1806.31" cy="1186.06" r="7.9"/><circle cx="1854.33" cy="1241.24" r="7.9"/><circle cx="1899.65" cy="1193.52" r="7.9"/><circle cx="1354.22" cy="1215.03" r="7.9"/><circle cx="1447.77" cy="1224.99" r="7.9"/><circle cx="1541.63" cy="1195.87" r="7.9"/><circle cx="1682.12" cy="1216.1" r="7.9"/><circle cx="1727.53" cy="1167.21" r="7.9"/><circle cx="1773.55" cy="1193.57" r="7.9"/><circle cx="1866.64" cy="1182.08" r="7.9"/><circle cx="1912.92" cy="1220.09" r="7.9"/><circle cx="1181.96" cy="1211.1" r="7.9"/><circle cx="1230.24" cy="1241.44" r="7.9"/><circle cx="1275.74" cy="1199.65" r="7.9"/></g>
</g>
<rect x="89.4" y="3.75" width="1907.1" height="430.25" fill="none" stroke="#262626" stroke-width="2.3"/>
<rect x="89.4" y="446.75" width="1907.1" height="135.1" fill="none" stroke="#262626" stroke-width="2.3"/>
<rect x="89.3" y="681" width="887.1" height="441.2" fill="none" stroke="#262626" stroke-width="2.3"/>
<rect x="89.3" y="1135.2" width="887.1" height="138.5" fill="none" stroke="#262626" stroke-width="2.3"/>
<rect x="1108.2" y="681" width="888.4" height="441.2" fill="none" stroke="#262626" stroke-width="2.3"/>
<rect x="1108.2" y="1135.2" width="888.4" height="138.5" fill="none" stroke="#262626" stroke-width="2.3"/>
<path d="M220.39 434v-16.8M459.35 434v-16.8M698.31 434v-16.8M937.27 434v-16.8M1176.23 434v-16.8M1415.19 434v-16.8M1654.15 434v-16.8M1893.11 434v-16.8M100.91 434v-9.3M160.65 434v-9.3M280.13 434v-9.3M339.87 434v-9.3M399.61 434v-9.3M519.09 434v-9.3M578.83 434v-9.3M638.57 434v-9.3M758.05 434v-9.3M817.79 434v-9.3M877.53 434v-9.3M997.01 434v-9.3M1056.75 434v-9.3M1116.49 434v-9.3M1235.97 434v-9.3M1295.71 434v-9.3M1355.45 434v-9.3M1474.93 434v-9.3M1534.67 434v-9.3M1594.41 434v-9.3M1713.89 434v-9.3M1773.63 434v-9.3M1833.37 434v-9.3M1952.85 434v-9.3" stroke="#000" stroke-width="2.3" fill="none"/>
<path d="M220.39 581.85v-16.8M459.35 581.85v-16.8M698.31 581.85v-16.8M937.27 581.85v-16.8M1176.23 581.85v-16.8M1415.19 581.85v-16.8M1654.15 581.85v-16.8M1893.11 581.85v-16.8M100.91 581.85v-9.3M160.65 581.85v-9.3M280.13 581.85v-9.3M339.87 581.85v-9.3M399.61 581.85v-9.3M519.09 581.85v-9.3M578.83 581.85v-9.3M638.57 581.85v-9.3M758.05 581.85v-9.3M817.79 581.85v-9.3M877.53 581.85v-9.3M997.01 581.85v-9.3M1056.75 581.85v-9.3M1116.49 581.85v-9.3M1235.97 581.85v-9.3M1295.71 581.85v-9.3M1355.45 581.85v-9.3M1474.93 581.85v-9.3M1534.67 581.85v-9.3M1594.41 581.85v-9.3M1713.89 581.85v-9.3M1773.63 581.85v-9.3M1833.37 581.85v-9.3M1952.85 581.85v-9.3" stroke="#000" stroke-width="2.3" fill="none"/>
<path d="M89.4 380.1h16.8M89.4 272.6h16.8M89.4 165.1h16.8M89.4 57.6h16.8M89.4 433.85h9.3M89.4 406.98h9.3M89.4 353.23h9.3M89.4 326.35h9.3M89.4 299.48h9.3M89.4 245.73h9.3M89.4 218.85h9.3M89.4 191.98h9.3M89.4 138.23h9.3M89.4 111.35h9.3M89.4 84.48h9.3M89.4 30.73h9.3" stroke="#000" stroke-width="2.3" fill="none"/>
<path d="M89.4 570.8h16.8M89.4 516.8h16.8M89.4 462.8h16.8M89.4 581.6h9.3M89.4 560h9.3M89.4 549.2h9.3M89.4 538.4h9.3M89.4 527.6h9.3M89.4 506h9.3M89.4 495.2h9.3M89.4 484.4h9.3M89.4 473.6h9.3M89.4 452h9.3" stroke="#000" stroke-width="2.3" fill="none"/>
<path d="M181.14 1122.2v-16.8M356.92 1122.2v-16.8M532.7 1122.2v-16.8M708.48 1122.2v-16.8M884.26 1122.2v-16.8M93.25 1122.2v-9.3M137.2 1122.2v-9.3M225.09 1122.2v-9.3M269.03 1122.2v-9.3M312.98 1122.2v-9.3M400.87 1122.2v-9.3M444.81 1122.2v-9.3M488.76 1122.2v-9.3M576.65 1122.2v-9.3M620.59 1122.2v-9.3M664.54 1122.2v-9.3M752.43 1122.2v-9.3M796.37 1122.2v-9.3M840.32 1122.2v-9.3M928.21 1122.2v-9.3M972.15 1122.2v-9.3" stroke="#000" stroke-width="2.3" fill="none"/>
<path d="M181.14 1273.7v-16.8M356.92 1273.7v-16.8M532.7 1273.7v-16.8M708.48 1273.7v-16.8M884.26 1273.7v-16.8M93.25 1273.7v-9.3M137.2 1273.7v-9.3M225.09 1273.7v-9.3M269.03 1273.7v-9.3M312.98 1273.7v-9.3M400.87 1273.7v-9.3M444.81 1273.7v-9.3M488.76 1273.7v-9.3M576.65 1273.7v-9.3M620.59 1273.7v-9.3M664.54 1273.7v-9.3M752.43 1273.7v-9.3M796.37 1273.7v-9.3M840.32 1273.7v-9.3M928.21 1273.7v-9.3M972.15 1273.7v-9.3" stroke="#000" stroke-width="2.3" fill="none"/>
<path d="M89.3 1066.4h16.8M89.3 956.2h16.8M89.3 846h16.8M89.3 735.8h16.8M89.3 1121.5h9.3M89.3 1093.95h9.3M89.3 1038.85h9.3M89.3 1011.3h9.3M89.3 983.75h9.3M89.3 928.65h9.3M89.3 901.1h9.3M89.3 873.55h9.3M89.3 818.45h9.3M89.3 790.9h9.3M89.3 763.35h9.3M89.3 708.25h9.3" stroke="#000" stroke-width="2.3" fill="none"/>
<path d="M89.3 1261.77h16.8M89.3 1206.6h16.8M89.3 1151.42h16.8M89.3 1272.81h9.3M89.3 1250.74h9.3M89.3 1239.7h9.3M89.3 1228.67h9.3M89.3 1217.63h9.3M89.3 1195.56h9.3M89.3 1184.53h9.3M89.3 1173.49h9.3M89.3 1162.46h9.3M89.3 1140.39h9.3" stroke="#000" stroke-width="2.3" fill="none"/>
<path d="M1201.4 1122.2v-16.8M1377 1122.2v-16.8M1552.6 1122.2v-16.8M1728.2 1122.2v-16.8M1903.8 1122.2v-16.8M1113.6 1122.2v-9.3M1157.5 1122.2v-9.3M1245.3 1122.2v-9.3M1289.2 1122.2v-9.3M1333.1 1122.2v-9.3M1420.9 1122.2v-9.3M1464.8 1122.2v-9.3M1508.7 1122.2v-9.3M1596.5 1122.2v-9.3M1640.4 1122.2v-9.3M1684.3 1122.2v-9.3M1772.1 1122.2v-9.3M1816 1122.2v-9.3M1859.9 1122.2v-9.3M1947.7 1122.2v-9.3M1991.6 1122.2v-9.3" stroke="#000" stroke-width="2.3" fill="none"/>
<path d="M1201.4 1273.7v-16.8M1377 1273.7v-16.8M1552.6 1273.7v-16.8M1728.2 1273.7v-16.8M1903.8 1273.7v-16.8M1113.6 1273.7v-9.3M1157.5 1273.7v-9.3M1245.3 1273.7v-9.3M1289.2 1273.7v-9.3M1333.1 1273.7v-9.3M1420.9 1273.7v-9.3M1464.8 1273.7v-9.3M1508.7 1273.7v-9.3M1596.5 1273.7v-9.3M1640.4 1273.7v-9.3M1684.3 1273.7v-9.3M1772.1 1273.7v-9.3M1816 1273.7v-9.3M1859.9 1273.7v-9.3M1947.7 1273.7v-9.3M1991.6 1273.7v-9.3" stroke="#000" stroke-width="2.3" fill="none"/>
<path d="M1108.2 1066.4h16.8M1108.2 956.2h16.8M1108.2 846h16.8M1108.2 735.8h16.8M1108.2 1121.5h9.3M1108.2 1093.95h9.3M1108.2 1038.85h9.3M1108.2 1011.3h9.3M1108.2 983.75h9.3M1108.2 928.65h9.3M1108.2 901.1h9.3M1108.2 873.55h9.3M1108.2 818.45h9.3M1108.2 790.9h9.3M1108.2 763.35h9.3M1108.2 708.25h9.3" stroke="#000" stroke-width="2.3" fill="none"/>
<path d="M1108.2 1261.77h16.8M1108.2 1206.6h16.8M1108.2 1151.42h16.8M1108.2 1272.81h9.3M1108.2 1250.74h9.3M1108.2 1239.7h9.3M1108.2 1228.67h9.3M1108.2 1217.63h9.3M1108.2 1195.56h9.3M1108.2 1184.53h9.3M1108.2 1173.49h9.3M1108.2 1162.46h9.3M1108.2 1140.39h9.3" stroke="#000" stroke-width="2.3" fill="none"/>
<text x="173.1" y="609.2" font-family="'Liberation Serif','DejaVu Serif',serif" font-size="27" textLength="94.82" lengthAdjust="spacingAndGlyphs" fill="#0d0d0d">2458860</text>
<text x="412.06" y="609.2" font-family="'Liberation Serif','DejaVu Serif',serif" font-size="27" textLength="94.82" lengthAdjust="spacingAndGlyphs" fill="#0d0d0d">2458880</text>
<text x="651.02" y="609.2" font-family="'Liberation Serif','DejaVu Serif',serif" font-size="27" textLength="94.82" lengthAdjust="spacingAndGlyphs" fill="#0d0d0d">2458900</text>
<text x="889.98" y="609.2" font-family="'Liberation Serif','DejaVu Serif',serif" font-size="27" textLength="94.82" lengthAdjust="spacingAndGlyphs" fill="#0d0d0d">2458920</text>
<text x="1128.94" y="609.2" font-family="'Liberation Serif','DejaVu Serif',serif" font-size="27" textLength="94.82" lengthAdjust="spacingAndGlyphs" fill="#0d0d0d">2458940</text>
<text x="1367.9" y="609.2" font-family="'Liberation Serif','DejaVu Serif',serif" font-size="27" textLength="94.82" lengthAdjust="spacingAndGlyphs" fill="#0d0d0d">2458960</text>
<text x="1606.86" y="609.2" font-family="'Liberation Serif','DejaVu Serif',serif" font-size="27" textLength="94.82" lengthAdjust="spacingAndGlyphs" fill="#0d0d0d">2458980</text>
<text x="1845.82" y="609.2" font-family="'Liberation Serif','DejaVu Serif',serif" font-size="27" textLength="94.82" lengthAdjust="spacingAndGlyphs" fill="#0d0d0d">2459000</text>
<text x="54.3" y="67.9" font-family="'Liberation Serif','DejaVu Serif',serif" font-size="27" textLength="25.68" lengthAdjust="spacingAndGlyphs" fill="#0d0d0d">40</text>
<text x="53.64" y="175.4" font-family="'Liberation Serif','DejaVu Serif',serif" font-size="27" textLength="26.36" lengthAdjust="spacingAndGlyphs" fill="#0d0d0d">20</text>
<text x="68.33" y="282.9" font-family="'Liberation Serif','DejaVu Serif',serif" font-size="27" fill="#0d0d0d">0</text>
<text x="36" y="390.4" font-family="'Liberation Serif','DejaVu Serif',serif" font-size="27" textLength="43.87" lengthAdjust="spacingAndGlyphs" fill="#0d0d0d">−20</text>
<text x="53.64" y="473.1" font-family="'Liberation Serif','DejaVu Serif',serif" font-size="27" textLength="26.39" lengthAdjust="spacingAndGlyphs" fill="#0d0d0d">25</text>
<text x="68.33" y="527.1" font-family="'Liberation Serif','DejaVu Serif',serif" font-size="27" fill="#0d0d0d">0</text>
<text x="36" y="581.1" font-family="'Liberation Serif','DejaVu Serif',serif" font-size="27" textLength="43.89" lengthAdjust="spacingAndGlyphs" fill="#0d0d0d">−25</text>
<text x="155.86" y="1301.1" font-family="'Liberation Serif','DejaVu Serif',serif" font-size="27" textLength="50.21" lengthAdjust="spacingAndGlyphs" fill="#0d0d0d">−0.4</text>
<text x="331.61" y="1301.1" font-family="'Liberation Serif','DejaVu Serif',serif" font-size="27" textLength="51.37" lengthAdjust="spacingAndGlyphs" fill="#0d0d0d">−0.2</text>
<text x="515.41" y="1301.1" font-family="'Liberation Serif','DejaVu Serif',serif" font-size="27" textLength="34.18" lengthAdjust="spacingAndGlyphs" fill="#0d0d0d">0.0</text>
<text x="691.17" y="1301.1" font-family="'Liberation Serif','DejaVu Serif',serif" font-size="27" textLength="34.69" lengthAdjust="spacingAndGlyphs" fill="#0d0d0d">0.2</text>
<text x="866.99" y="1301.1" font-family="'Liberation Serif','DejaVu Serif',serif" font-size="27" textLength="33.54" lengthAdjust="spacingAndGlyphs" fill="#0d0d0d">0.4</text>
<text x="54.2" y="746.1" font-family="'Liberation Serif','DejaVu Serif',serif" font-size="27" textLength="25.68" lengthAdjust="spacingAndGlyphs" fill="#0d0d0d">40</text>
<text x="53.54" y="856.3" font-family="'Liberation Serif','DejaVu Serif',serif" font-size="27" textLength="26.36" lengthAdjust="spacingAndGlyphs" fill="#0d0d0d">20</text>
<text x="68.23" y="966.5" font-family="'Liberation Serif','DejaVu Serif',serif" font-size="27" fill="#0d0d0d">0</text>
<text x="35.9" y="1076.7" font-family="'Liberation Serif','DejaVu Serif',serif" font-size="27" textLength="43.87" lengthAdjust="spacingAndGlyphs" fill="#0d0d0d">−20</text>
<text x="53.54" y="1161.72" font-family="'Liberation Serif','DejaVu Serif',serif" font-size="27" textLength="26.39" lengthAdjust="spacingAndGlyphs" fill="#0d0d0d">25</text>
<text x="68.23" y="1216.9" font-family="'Liberation Serif','DejaVu Serif',serif" font-size="27" fill="#0d0d0d">0</text>
<text x="35.9" y="1272.07" font-family="'Liberation Serif','DejaVu Serif',serif" font-size="27" textLength="43.89" lengthAdjust="spacingAndGlyphs" fill="#0d0d0d">−25</text>
<text x="491.91" y="1330" font-family="'Liberation Serif','DejaVu Serif',serif" font-size="34" textLength="79.87" lengthAdjust="spacingAndGlyphs" fill="#0d0d0d" stroke="#0d0d0d" stroke-width="0.25">Phase</text>
<text transform="translate(27 901.5) rotate(-90)" x="-64.1" y="0" font-family="'Liberation Serif','DejaVu Serif',serif" font-size="34" textLength="129.77" lengthAdjust="spacingAndGlyphs" fill="#0d0d0d" stroke="#0d0d0d" stroke-width="0.25">RV [m/s]</text>
<text transform="translate(27 1208) rotate(-90)" x="-69.99" y="0" font-family="'Liberation Serif','DejaVu Serif',serif" font-size="34" textLength="141.55" lengthAdjust="spacingAndGlyphs" fill="#0d0d0d" stroke="#0d0d0d" stroke-width="0.25">Res. [m/s]</text>
<text x="1176.12" y="1301.1" font-family="'Liberation Serif','DejaVu Serif',serif" font-size="27" textLength="50.21" lengthAdjust="spacingAndGlyphs" fill="#0d0d0d">−0.4</text>
<text x="1351.69" y="1301.1" font-family="'Liberation Serif','DejaVu Serif',serif" font-size="27" textLength="51.37" lengthAdjust="spacingAndGlyphs" fill="#0d0d0d">−0.2</text>
<text x="1535.31" y="1301.1" font-family="'Liberation Serif','DejaVu Serif',serif" font-size="27" textLength="34.18" lengthAdjust="spacingAndGlyphs" fill="#0d0d0d">0.0</text>
<text x="1710.89" y="1301.1" font-family="'Liberation Serif','DejaVu Serif',serif" font-size="27" textLength="34.69" lengthAdjust="spacingAndGlyphs" fill="#0d0d0d">0.2</text>
<text x="1886.53" y="1301.1" font-family="'Liberation Serif','DejaVu Serif',serif" font-size="27" textLength="33.54" lengthAdjust="spacingAndGlyphs" fill="#0d0d0d">0.4</text>
<text x="1073.1" y="746.1" font-family="'Liberation Serif','DejaVu Serif',serif" font-size="27" textLength="25.68" lengthAdjust="spacingAndGlyphs" fill="#0d0d0d">40</text>
<text x="1072.44" y="856.3" font-family="'Liberation Serif','DejaVu Serif',serif" font-size="27" textLength="26.36" lengthAdjust="spacingAndGlyphs" fill="#0d0d0d">20</text>
<text x="1087.13" y="966.5" font-family="'Liberation Serif','DejaVu Serif',serif" font-size="27" fill="#0d0d0d">0</text>
<text x="1054.8" y="1076.7" font-family="'Liberation Serif','DejaVu Serif',serif" font-size="27" textLength="43.87" lengthAdjust="spacingAndGlyphs" fill="#0d0d0d">−20</text>
<text x="1072.44" y="1161.72" font-family="'Liberation Serif','DejaVu Serif',serif" font-size="27" textLength="26.39" lengthAdjust="spacingAndGlyphs" fill="#0d0d0d">25</text>
<text x="1087.13" y="1216.9" font-family="'Liberation Serif','DejaVu Serif',serif" font-size="27" fill="#0d0d0d">0</text>
<text x="1054.8" y="1272.07" font-family="'Liberation Serif','DejaVu Serif',serif" font-size="27" textLength="43.89" lengthAdjust="spacingAndGlyphs" fill="#0d0d0d">−25</text>
<text x="1511.81" y="1330" font-family="'Liberation Serif','DejaVu Serif',serif" font-size="34" textLength="79.87" lengthAdjust="spacingAndGlyphs" fill="#0d0d0d" stroke="#0d0d0d" stroke-width="0.25">Phase</text>
<text transform="translate(1045.9 901.5) rotate(-90)" x="-64.1" y="0" font-family="'Liberation Serif','DejaVu Serif',serif" font-size="34" textLength="129.77" lengthAdjust="spacingAndGlyphs" fill="#0d0d0d" stroke="#0d0d0d" stroke-width="0.25">RV [m/s]</text>
<text transform="translate(1045.9 1208) rotate(-90)" x="-69.99" y="0" font-family="'Liberation Serif','DejaVu Serif',serif" font-size="34" textLength="141.55" lengthAdjust="spacingAndGlyphs" fill="#0d0d0d" stroke="#0d0d0d" stroke-width="0.25">Res. [m/s]</text>
<text transform="translate(27 221.4) rotate(-90)" x="-64.1" y="0" font-family="'Liberation Serif','DejaVu Serif',serif" font-size="34" textLength="129.77" lengthAdjust="spacingAndGlyphs" fill="#0d0d0d" stroke="#0d0d0d" stroke-width="0.25">RV [m/s]</text>
<text transform="translate(27 516.2) rotate(-90)" x="-69.99" y="0" font-family="'Liberation Serif','DejaVu Serif',serif" font-size="34" textLength="141.55" lengthAdjust="spacingAndGlyphs" fill="#0d0d0d" stroke="#0d0d0d" stroke-width="0.25">Res. [m/s]</text>
<text fill="#0d0d0d" stroke="#0d0d0d" stroke-width="0.3"><tspan x="988.81" y="641" font-family="'Liberation Serif','DejaVu Serif',serif" font-size="35" textLength="60.96" lengthAdjust="spacingAndGlyphs">BJD</tspan><tspan x="1049.17" y="644.4" font-family="'Liberation Serif','DejaVu Serif',serif" font-size="23" textLength="48.01" lengthAdjust="spacingAndGlyphs">TDB</tspan></text>
<text fill="#000" filter="url(#fat)"><tspan x="117.76" y="60.4" font-family="'Liberation Sans','DejaVu Sans',sans-serif" font-size="50.7" font-weight="bold" textLength="13.04" lengthAdjust="spacingAndGlyphs">a</tspan><tspan x="136.92" y="60.4" font-family="'Liberation Sans','DejaVu Sans',sans-serif" font-size="50.7" font-weight="bold" textLength="8.61" lengthAdjust="spacingAndGlyphs">)</tspan> <tspan x="158.17" y="60.4" font-family="'Liberation Sans','DejaVu Sans',sans-serif" font-size="50.7" font-weight="bold" letter-spacing="5" textLength="54.39" lengthAdjust="spacingAndGlyphs">HPF</tspan> <tspan x="221.96" y="60.4" font-family="'Liberation Sans','DejaVu Sans',sans-serif" font-size="50.7" font-weight="bold" letter-spacing="5" textLength="48.36" lengthAdjust="spacingAndGlyphs">RVs</tspan></text>
<text fill="#000" filter="url(#fat)"><tspan x="117.5" y="730.2" font-family="'Liberation Sans','DejaVu Sans',sans-serif" font-size="43.5" font-weight="bold" textLength="13.94" lengthAdjust="spacingAndGlyphs">b</tspan><tspan x="134.63" y="730.2" font-family="'Liberation Sans','DejaVu Sans',sans-serif" font-size="43.5" font-weight="bold" textLength="7.79" lengthAdjust="spacingAndGlyphs">)</tspan> <tspan x="153.85" y="730.2" font-family="'Liberation Sans','DejaVu Sans',sans-serif" font-size="43.5" font-weight="bold" letter-spacing="4" textLength="89.02" lengthAdjust="spacingAndGlyphs">Phased</tspan> <tspan x="253.05" y="730.2" font-family="'Liberation Sans','DejaVu Sans',sans-serif" font-size="43.5" font-weight="bold" letter-spacing="4" textLength="50.5" lengthAdjust="spacingAndGlyphs">RVs,</tspan> <tspan x="312.28" y="730.2" font-family="'Liberation Sans','DejaVu Sans',sans-serif" font-size="43.5" font-weight="bold" letter-spacing="4" textLength="77.95" lengthAdjust="spacingAndGlyphs">Planet</tspan> <tspan x="401.35" y="730.2" font-family="'Liberation Sans','DejaVu Sans',sans-serif" font-size="43.5" font-weight="bold" textLength="13.94" lengthAdjust="spacingAndGlyphs">b</tspan></text>
<text fill="#000" filter="url(#fat)"><tspan x="1144.94" y="730.2" font-family="'Liberation Sans','DejaVu Sans',sans-serif" font-size="43.5" font-weight="bold" textLength="9.35" lengthAdjust="spacingAndGlyphs">c</tspan><tspan x="1157.43" y="730.2" font-family="'Liberation Sans','DejaVu Sans',sans-serif" font-size="43.5" font-weight="bold" textLength="8.38" lengthAdjust="spacingAndGlyphs">)</tspan> <tspan x="1176.3" y="730.2" font-family="'Liberation Sans','DejaVu Sans',sans-serif" font-size="43.5" font-weight="bold" letter-spacing="4" textLength="88.97" lengthAdjust="spacingAndGlyphs">Phased</tspan> <tspan x="1275.42" y="730.2" font-family="'Liberation Sans','DejaVu Sans',sans-serif" font-size="43.5" font-weight="bold" letter-spacing="4" textLength="51.49" lengthAdjust="spacingAndGlyphs">RVs,</tspan> <tspan x="1335.6" y="730.2" font-family="'Liberation Sans','DejaVu Sans',sans-serif" font-size="43.5" font-weight="bold" letter-spacing="4" textLength="77.06" lengthAdjust="spacingAndGlyphs">Planet</tspan> <tspan x="1423.53" y="730.2" font-family="'Liberation Sans','DejaVu Sans',sans-serif" font-size="43.5" font-weight="bold" textLength="8.78" lengthAdjust="spacingAndGlyphs">c</tspan></text>
<text fill="#0d0d0d" stroke="#0d0d0d" stroke-width="0.3"><tspan x="512.39" y="730.5" font-family="'Liberation Serif','DejaVu Serif',serif" font-size="35" font-style="italic" textLength="24.22" lengthAdjust="spacingAndGlyphs">m</tspan><tspan x="538.4" y="733.4" font-family="'Liberation Serif','DejaVu Serif',serif" font-size="25" font-style="italic" textLength="11.92" lengthAdjust="spacingAndGlyphs">p</tspan> <tspan x="556.95" y="734" font-family="'Liberation Serif','DejaVu Serif',serif" font-size="39" textLength="23.27" lengthAdjust="spacingAndGlyphs" stroke="#0d0d0d" stroke-width="0.7">&lt;</tspan> <tspan x="584.14" y="730.5" font-family="'Liberation Serif','DejaVu Serif',serif" font-size="35" textLength="60.88" lengthAdjust="spacingAndGlyphs">15.9</tspan><tspan x="644.59" y="730.5" font-family="'Liberation Serif','DejaVu Serif',serif" font-size="35" font-style="italic" textLength="27.87" lengthAdjust="spacingAndGlyphs">M</tspan><tspan stroke="none" x="674.58" y="735.4" font-family="'DejaVu Math TeX Gyre','DejaVu Sans',sans-serif" font-size="29.5" textLength="24.03" lengthAdjust="spacingAndGlyphs">⊕</tspan> <tspan x="710.46" y="730.5" font-family="'Liberation Serif','DejaVu Serif',serif" font-size="35" textLength="23.43" lengthAdjust="spacingAndGlyphs">at</tspan> <tspan x="744.36" y="730.5" font-family="'Liberation Serif','DejaVu Serif',serif" font-size="35" textLength="59.04" lengthAdjust="spacingAndGlyphs">95%</tspan> <tspan x="812.69" y="730.5" font-family="'Liberation Serif','DejaVu Serif',serif" font-size="35" textLength="150.8" lengthAdjust="spacingAndGlyphs">confidence</tspan></text>
<text fill="#0d0d0d" stroke="#0d0d0d" stroke-width="0.3"><tspan x="775.93" y="774.3" font-family="'Liberation Serif','DejaVu Serif',serif" font-size="35" textLength="24.42" lengthAdjust="spacingAndGlyphs">K</tspan><tspan x="800.34" y="777.3" font-family="'Liberation Serif','DejaVu Serif',serif" font-size="37.5" textLength="25.57" lengthAdjust="spacingAndGlyphs" stroke="#0d0d0d" stroke-width="0.7">=</tspan><tspan x="824.71" y="774.3" font-family="'Liberation Serif','DejaVu Serif',serif" font-size="35" textLength="41.59" lengthAdjust="spacingAndGlyphs">3.5</tspan><tspan x="866.45" y="760.8" font-family="'Liberation Serif','DejaVu Serif',serif" font-size="24.5" textLength="45.58" lengthAdjust="spacingAndGlyphs">+2.7</tspan><tspan x="866.41" y="782.5" font-family="'Liberation Serif','DejaVu Serif',serif" font-size="24.5" textLength="46.87" lengthAdjust="spacingAndGlyphs">−2.0</tspan><tspan x="914.57" y="774.3" font-family="'Liberation Serif','DejaVu Serif',serif" font-size="35" textLength="50.29" lengthAdjust="spacingAndGlyphs">m/s</tspan></text>
<text fill="#0d0d0d" stroke="#0d0d0d" stroke-width="0.3"><tspan x="790.38" y="818.8" font-family="'Liberation Serif','DejaVu Serif',serif" font-size="35" font-style="italic" textLength="20.68" lengthAdjust="spacingAndGlyphs">P</tspan> <tspan x="814.16" y="821.8" font-family="'Liberation Serif','DejaVu Serif',serif" font-size="37.5" textLength="24.24" lengthAdjust="spacingAndGlyphs" stroke="#0d0d0d" stroke-width="0.7">=</tspan> <tspan x="842.19" y="818.8" font-family="'Liberation Serif','DejaVu Serif',serif" font-size="35" textLength="122.75" lengthAdjust="spacingAndGlyphs">10.9days</tspan></text>
<text fill="#0d0d0d" stroke="#0d0d0d" stroke-width="0.3"><tspan x="1549.69" y="730.5" font-family="'Liberation Serif','DejaVu Serif',serif" font-size="35" font-style="italic" textLength="24.22" lengthAdjust="spacingAndGlyphs">m</tspan><tspan x="1575.7" y="733.4" font-family="'Liberation Serif','DejaVu Serif',serif" font-size="25" font-style="italic" textLength="11.92" lengthAdjust="spacingAndGlyphs">p</tspan> <tspan x="1594.25" y="734" font-family="'Liberation Serif','DejaVu Serif',serif" font-size="39" textLength="23.27" lengthAdjust="spacingAndGlyphs" stroke="#0d0d0d" stroke-width="0.7">&lt;</tspan> <tspan x="1623.09" y="730.5" font-family="'Liberation Serif','DejaVu Serif',serif" font-size="35" textLength="41.02" lengthAdjust="spacingAndGlyphs">6.4</tspan><tspan x="1664.59" y="730.5" font-family="'Liberation Serif','DejaVu Serif',serif" font-size="35" font-style="italic" textLength="27.87" lengthAdjust="spacingAndGlyphs">M</tspan><tspan stroke="none" x="1694.58" y="735.4" font-family="'DejaVu Math TeX Gyre','DejaVu Sans',sans-serif" font-size="29.5" textLength="24.03" lengthAdjust="spacingAndGlyphs">⊕</tspan> <tspan x="1730.46" y="730.5" font-family="'Liberation Serif','DejaVu Serif',serif" font-size="35" textLength="23.43" lengthAdjust="spacingAndGlyphs">at</tspan> <tspan x="1764.36" y="730.5" font-family="'Liberation Serif','DejaVu Serif',serif" font-size="35" textLength="59.04" lengthAdjust="spacingAndGlyphs">95%</tspan> <tspan x="1832.69" y="730.5" font-family="'Liberation Serif','DejaVu Serif',serif" font-size="35" textLength="150.8" lengthAdjust="spacingAndGlyphs">confidence</tspan></text>
<text fill="#0d0d0d" stroke="#0d0d0d" stroke-width="0.3"><tspan x="1795.93" y="774.3" font-family="'Liberation Serif','DejaVu Serif',serif" font-size="35" textLength="24.42" lengthAdjust="spacingAndGlyphs">K</tspan><tspan x="1820.34" y="777.3" font-family="'Liberation Serif','DejaVu Serif',serif" font-size="37.5" textLength="25.57" lengthAdjust="spacingAndGlyphs" stroke="#0d0d0d" stroke-width="0.7">=</tspan><tspan x="1845.04" y="774.3" font-family="'Liberation Serif','DejaVu Serif',serif" font-size="35" textLength="41.31" lengthAdjust="spacingAndGlyphs">0.9</tspan><tspan x="1886.43" y="760.8" font-family="'Liberation Serif','DejaVu Serif',serif" font-size="24.5" textLength="46.41" lengthAdjust="spacingAndGlyphs">+1.1</tspan><tspan x="1886.42" y="782.5" font-family="'Liberation Serif','DejaVu Serif',serif" font-size="24.5" textLength="46.65" lengthAdjust="spacingAndGlyphs">−0.6</tspan><tspan x="1934.57" y="774.3" font-family="'Liberation Serif','DejaVu Serif',serif" font-size="35" textLength="50.29" lengthAdjust="spacingAndGlyphs">m/s</tspan></text>
<text fill="#0d0d0d" stroke="#0d0d0d" stroke-width="0.3"><tspan x="1810.38" y="818.8" font-family="'Liberation Serif','DejaVu Serif',serif" font-size="35" font-style="italic" textLength="20.68" lengthAdjust="spacingAndGlyphs">P</tspan> <tspan x="1834.16" y="821.8" font-family="'Liberation Serif','DejaVu Serif',serif" font-size="37.5" textLength="24.24" lengthAdjust="spacingAndGlyphs" stroke="#0d0d0d" stroke-width="0.7">=</tspan> <tspan x="1862.19" y="818.8" font-family="'Liberation Serif','DejaVu Serif',serif" font-size="35" textLength="122.75" lengthAdjust="spacingAndGlyphs">18.8days</tspan></text>
</svg>
</body></html>
